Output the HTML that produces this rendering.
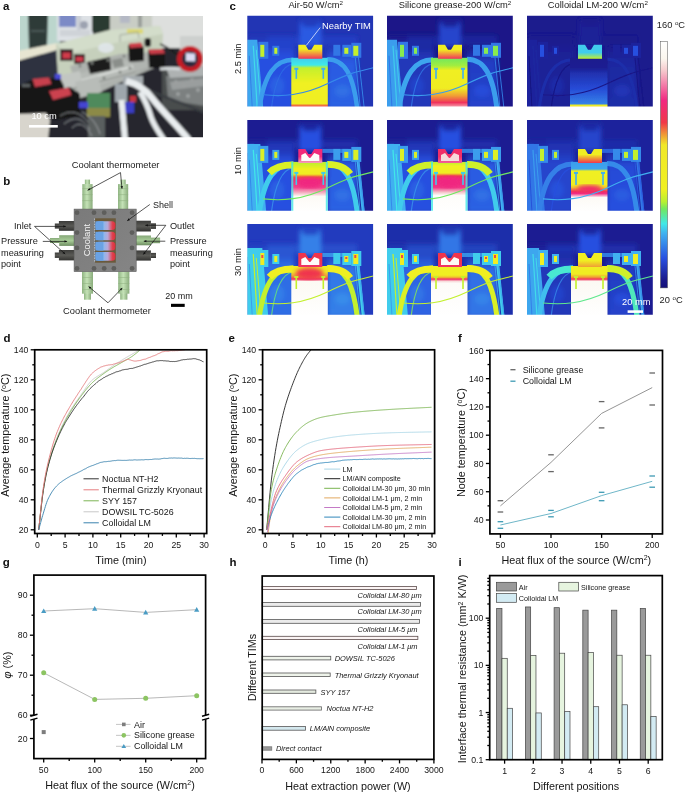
<!DOCTYPE html>
<html><head><meta charset="utf-8"><title>Figure</title>
<style>
html,body{margin:0;padding:0;background:#fff;width:685px;height:793px;overflow:hidden;}
svg{display:block;}
text{font-family:'Liberation Sans', Arial, sans-serif;}
</style></head><body>
<svg width="685" height="793" viewBox="0 0 685 793">
<rect width="685" height="793" fill="#fff"/>
<defs><filter id="tblur" x="-5%" y="-5%" width="110%" height="110%"><feGaussianBlur stdDeviation="0.55"/></filter><filter id="pblur" x="-5%" y="-5%" width="110%" height="110%"><feGaussianBlur stdDeviation="0.9"/></filter><filter id="tblur2" x="-10%" y="-10%" width="120%" height="120%"><feGaussianBlur stdDeviation="2"/></filter></defs>
<text x="3.0" y="10.0" font-size="11.5" font-weight="bold" fill="#111">a</text>
<text x="3.2" y="185.3" font-size="11.5" font-weight="bold" fill="#111">b</text>
<text x="229.5" y="10.0" font-size="11.5" font-weight="bold" fill="#111">c</text>
<text x="3.5" y="342.3" font-size="11.5" font-weight="bold" fill="#111">d</text>
<text x="228.5" y="342.3" font-size="11.5" font-weight="bold" fill="#111">e</text>
<text x="458.0" y="342.3" font-size="11.5" font-weight="bold" fill="#111">f</text>
<text x="2.8" y="566.0" font-size="11.5" font-weight="bold" fill="#111">g</text>
<text x="229.5" y="566.0" font-size="11.5" font-weight="bold" fill="#111">h</text>
<text x="458.5" y="566.0" font-size="11.5" font-weight="bold" fill="#111">i</text>
<clipPath id="clipa"><rect x="20" y="16" width="183" height="121.3"/></clipPath>
<g clip-path="url(#clipa)"><g transform="translate(20,16)" filter="url(#pblur)">
<rect x="-2" y="-2" width="187" height="126" fill="#25282d"/>
<rect x="-2" y="-2" width="42" height="40" fill="#bcd6cd"/>
<polygon points="8,-2 28,-2 27,31 9,34" fill="#2f3b39"/>
<rect x="11" y="14" width="14" height="2" fill="#4a5654"/>
<rect x="37" y="-2" width="36" height="27" fill="#dde1e5"/>
<rect x="39" y="-2" width="17" height="13" fill="#7c8ac6"/>
<rect x="57" y="-2" width="4" height="16" fill="#c8ccd4"/>
<circle cx="64" cy="9" r="4" fill="#9ca2b0"/>
<rect x="40" y="14" width="30" height="6" fill="#cfd3d8"/>
<rect x="72" y="-2" width="20" height="18" fill="#2b3a33"/>
<rect x="90" y="-2" width="42" height="16" fill="#c9cdc5"/>
<rect x="100" y="-2" width="10" height="9" fill="#b5b9c5"/>
<rect x="118" y="-2" width="4" height="14" fill="#9a9e9a"/>
<rect x="132" y="-2" width="53" height="34" fill="#dddfdd"/>
<rect x="160" y="20" width="25" height="40" fill="#cdd0ce"/>
<polygon points="-2,35 37,27 37,34 -2,45" fill="#e7e5d1"/>
<polygon points="-2,45 37,34 40,62 -2,70" fill="#2d3240"/>
<polygon points="36,28 90,14 140,10 143,18 142,40 100,52 60,62 38,62" fill="#c6d0bc"/>
<polygon points="36,28 90,14 140,10 143,18 100,26 46,38" fill="#d3ddca"/>
<ellipse cx="86" cy="32" rx="8" ry="5" fill="#e4e8f0" opacity="0.8"/>
<rect x="107" y="13" width="16" height="4.5" fill="#dcd872"/>
<polyline points="100,26 100,19 118,16 119,22" stroke="#9aa096" stroke-width="0.9" fill="none"/>
<rect x="40" y="33" width="13" height="12" fill="#3b2226"/>
<rect x="42.5" y="36.5" width="8" height="6" fill="#d23a4c"/>
<rect x="54" y="38" width="11" height="10" fill="#3b2226"/>
<rect x="56" y="41" width="7" height="4.5" fill="#d23a4c"/>
<polygon points="50,50 100,38 132,36 134,52 110,62 76,78 56,70" fill="#aeb2ae"/>
<polygon points="36,64 100,46 138,38 142,50 104,60 44,80" fill="#b6bab6"/>
<path d="M40,70 L140,43" stroke="#e0e4e0" stroke-width="1.5" fill="none"/>
<path d="M42,76 L140,49" stroke="#8a8e8a" stroke-width="1.2" fill="none"/>
<polygon points="67,46 90,41 91,54 70,58" fill="#1f1f1f"/>
<polygon points="92,44 102,42 104,50 94,52" fill="#8a8e8a"/>
<polygon points="36,60 60,55 62,68 40,74" fill="#c2c6c2"/>
<polygon points="55,66 78,60 82,76 60,82" fill="#b8bcb8"/>
<polygon points="110,44 135,38 140,48 116,56" fill="#b0b4b0"/>
<circle cx="60" cy="50" r="1.5" fill="#7c807c"/>
<circle cx="72" cy="47" r="1.5" fill="#7c807c"/>
<circle cx="88" cy="44" r="1.5" fill="#7c807c"/>
<circle cx="104" cy="40" r="1.5" fill="#7c807c"/>
<circle cx="100" cy="56" r="1.5" fill="#7c807c"/>
<circle cx="84" cy="62" r="1.5" fill="#7c807c"/>
<circle cx="110" cy="52" r="1.5" fill="#7c807c"/>
<rect x="142" y="52" width="43" height="42" fill="#4a4d4d"/>
<polygon points="146,60 185,56 185,90 148,84" fill="#7c8080"/>
<polygon points="150,66 185,62 185,70 152,74" fill="#9a9e9e"/>
<circle cx="156" cy="66" r="2" fill="#9ca0a0"/>
<circle cx="164" cy="70" r="2" fill="#9ca0a0"/>
<circle cx="172" cy="64" r="2" fill="#9ca0a0"/>
<circle cx="178" cy="74" r="2" fill="#9ca0a0"/>
<circle cx="168" cy="80" r="2" fill="#9ca0a0"/>
<circle cx="158" cy="78" r="2" fill="#9ca0a0"/>
<polygon points="126,72 185,95 185,98 126,75" fill="#3a3e42"/>
<polygon points="146,52 185,50 185,60 150,62" fill="#aeb2b2"/>
<path d="M140,28 C150,32 156,38 162,42" stroke="#1a1a1a" stroke-width="1.5" fill="none"/>
<circle cx="170" cy="43" r="13" fill="#c41e28"/>
<circle cx="170" cy="43" r="8" fill="#2a2a3c"/>
<polygon points="166,37 175,37.5 175,45.5 166,45" fill="#dcdcf4"/>
<polygon points="-2,70 12,64 40,62 44,70 44,96 30,100 -2,100" fill="#151515"/>
<polygon points="12.5,63 29,61.5 31.5,68 15,71" fill="#c8404e"/>
<polygon points="28,76 50,71 60,78 60,100 34,104 28,96" fill="#121212"/>
<polygon points="29,75 49,71.5 51.5,79 33,84" fill="#cc4250"/>
<rect x="2" y="68" width="8" height="3" fill="#5a5e60"/>
<polygon points="108,29 121,27 124,32 124,45 109,46" fill="#141414"/>
<polygon points="109,27.5 121,26.5 123,31 110,32" fill="#cc3c4a"/>
<polygon points="128,34 143,33 145,38 145,52 129,52" fill="#131313"/>
<polygon points="128,33.5 143,33 145,37.5 130,38" fill="#cc3c4a"/>
<rect x="124.5" y="22" width="6.5" height="9" rx="3" fill="#191919"/>
<rect x="67" y="77" width="23" height="24" fill="#4f8a5c"/>
<rect x="67" y="92" width="23" height="9" fill="#8c8a46"/>
<rect x="68" y="100" width="17" height="22" fill="#5a5e5e"/>
<polygon points="-2,98 26,97 30,104 28,124 -2,124" fill="#d8d5cd"/>
<rect x="59" y="86" width="9" height="6" fill="#4444d2"/>
<rect x="35" y="58" width="6" height="5" fill="#4a4ad8"/>
<rect x="105" y="86" width="9" height="11" fill="#3a3cc4"/>
<rect x="110" y="80" width="6" height="6" fill="#c83440"/>
<rect x="95" y="68" width="12" height="18" fill="#9ea6ac"/>
<rect x="103" y="60" width="20" height="8" fill="#a4aaae"/>
<path d="M106,65 C118,68 126,74 132,82 C142,95 156,108 169,124" stroke="#e9edef" stroke-width="6.5" fill="none"/>
<path d="M120,76 C125,84 129,94 131,101 C134,110 139,116 144,124" stroke="#e6eaec" stroke-width="5.5" fill="none"/>
<path d="M101.5,84 C102.5,96 103.5,108 105,124" stroke="#e8ecee" stroke-width="6" fill="none"/>
<path d="M140,53 C148,52 154,52 160,53" stroke="#d4d8da" stroke-width="3" fill="none"/>
<path d="M40,100 C52,92 62,98 68,106 M44,108 C56,98 64,104 70,114 M52,112 C60,104 66,110 72,120 M62,96 C70,100 76,106 80,118" stroke="#b8bcc0" stroke-width="0.7" fill="none"/>
</g>
<text x="31.4" y="119.0" font-size="9.3" fill="#fff">10 cm</text>
<rect x="29" y="125.0" width="28.8" height="2.6" fill="#fff"/>
</g>
<defs>
<linearGradient id="gpipe" x1="0" x2="1" y1="0" y2="0"><stop offset="0" stop-color="#8fb482"/><stop offset="0.45" stop-color="#c4e2b6"/><stop offset="1" stop-color="#8aac7c"/></linearGradient>
<linearGradient id="gfit" x1="0" x2="0" y1="0" y2="1"><stop offset="0" stop-color="#86a878"/><stop offset="0.5" stop-color="#a8cc98"/><stop offset="1" stop-color="#6f8f62"/></linearGradient>
<linearGradient id="dfit" x1="0" x2="0" y1="0" y2="1"><stop offset="0" stop-color="#3c3c3a"/><stop offset="0.5" stop-color="#5a5a56"/><stop offset="1" stop-color="#333331"/></linearGradient>
<linearGradient id="chan" x1="0" x2="1" y1="0" y2="0"><stop offset="0" stop-color="#5f9ae0"/><stop offset="0.4" stop-color="#8ab8ee"/><stop offset="0.62" stop-color="#b8a8d8"/><stop offset="0.85" stop-color="#e0404e"/><stop offset="1" stop-color="#d8303c"/></linearGradient>
<linearGradient id="shell" x1="0" x2="1" y1="0" y2="1"><stop offset="0" stop-color="#7a7a7a"/><stop offset="1" stop-color="#858585"/></linearGradient>
</defs>
<rect x="84.85" y="179.60" width="5.2" height="5" fill="url(#gpipe)"/>
<rect x="82.30" y="184.10" width="10.30" height="25.40" fill="url(#gpipe)"/>
<line x1="82.30" y1="188.60" x2="92.60" y2="188.60" stroke="#8fb07f" stroke-width="0.5" />
<line x1="82.30" y1="194.60" x2="92.60" y2="194.60" stroke="#8fb07f" stroke-width="0.5" />
<line x1="82.30" y1="200.60" x2="92.60" y2="200.60" stroke="#8fb07f" stroke-width="0.5" />
<rect x="120.50" y="179.60" width="5.2" height="5" fill="url(#gpipe)"/>
<rect x="118.00" y="184.10" width="10.20" height="25.40" fill="url(#gpipe)"/>
<line x1="118.00" y1="188.60" x2="128.20" y2="188.60" stroke="#8fb07f" stroke-width="0.5" />
<line x1="118.00" y1="194.60" x2="128.20" y2="194.60" stroke="#8fb07f" stroke-width="0.5" />
<line x1="118.00" y1="200.60" x2="128.20" y2="200.60" stroke="#8fb07f" stroke-width="0.5" />
<rect x="82.00" y="271.50" width="11.00" height="22.20" fill="url(#gpipe)"/>
<rect x="84.00" y="293.20" width="7.00" height="6.5" fill="url(#gpipe)"/>
<line x1="82.00" y1="277.50" x2="93.00" y2="277.50" stroke="#8fb07f" stroke-width="0.5" />
<line x1="82.00" y1="283.50" x2="93.00" y2="283.50" stroke="#8fb07f" stroke-width="0.5" />
<line x1="82.00" y1="289.50" x2="93.00" y2="289.50" stroke="#8fb07f" stroke-width="0.5" />
<rect x="118.20" y="271.50" width="11.20" height="22.20" fill="url(#gpipe)"/>
<rect x="120.20" y="293.20" width="7.20" height="6.5" fill="url(#gpipe)"/>
<line x1="118.20" y1="277.50" x2="129.40" y2="277.50" stroke="#8fb07f" stroke-width="0.5" />
<line x1="118.20" y1="283.50" x2="129.40" y2="283.50" stroke="#8fb07f" stroke-width="0.5" />
<line x1="118.20" y1="289.50" x2="129.40" y2="289.50" stroke="#8fb07f" stroke-width="0.5" />
<rect x="54.80" y="223.50" width="19.70" height="5.10" fill="url(#dfit)"/>
<rect x="58.90" y="221.00" width="15.60" height="9.80" fill="url(#dfit)"/>
<rect x="50.00" y="238.00" width="24.50" height="5.00" fill="url(#gfit)"/>
<rect x="59.20" y="235.20" width="15.30" height="10.70" fill="url(#gfit)"/>
<rect x="54.80" y="252.50" width="19.70" height="5.40" fill="url(#dfit)"/>
<rect x="58.90" y="250.00" width="15.60" height="10.40" fill="url(#dfit)"/>
<rect x="150.90" y="223.30" width="5.10" height="5.60" fill="url(#dfit)"/>
<rect x="136.00" y="220.70" width="14.90" height="10.80" fill="url(#dfit)"/>
<rect x="151.00" y="237.60" width="9.10" height="5.60" fill="url(#gfit)"/>
<rect x="136.00" y="235.50" width="15.00" height="9.80" fill="url(#gfit)"/>
<rect x="150.90" y="252.90" width="5.10" height="5.10" fill="url(#dfit)"/>
<rect x="136.00" y="250.40" width="14.90" height="10.20" fill="url(#dfit)"/>
<rect x="74.1" y="209.1" width="62.1" height="62.5" fill="url(#shell)" stroke="#5e5e5e" stroke-width="0.6"/>
<circle cx="77.0" cy="212.7" r="2.4" fill="#5e5e5c"/>
<circle cx="77.0" cy="268.4" r="2.4" fill="#5e5e5c"/>
<circle cx="94.0" cy="212.7" r="2.4" fill="#5e5e5c"/>
<circle cx="94.0" cy="268.4" r="2.4" fill="#5e5e5c"/>
<circle cx="104.2" cy="212.7" r="2.4" fill="#5e5e5c"/>
<circle cx="104.2" cy="268.4" r="2.4" fill="#5e5e5c"/>
<circle cx="113.9" cy="212.7" r="2.4" fill="#5e5e5c"/>
<circle cx="113.9" cy="268.4" r="2.4" fill="#5e5e5c"/>
<circle cx="132.1" cy="212.7" r="2.4" fill="#5e5e5c"/>
<circle cx="132.1" cy="268.4" r="2.4" fill="#5e5e5c"/>
<circle cx="77.0" cy="232.6" r="2.4" fill="#5e5e5c"/>
<circle cx="132.0" cy="232.6" r="2.4" fill="#5e5e5c"/>
<circle cx="77.0" cy="247.9" r="2.4" fill="#5e5e5c"/>
<circle cx="132.0" cy="247.9" r="2.4" fill="#5e5e5c"/>
<rect x="95.0" y="218.3" width="20.8" height="44.4" fill="#6a5a3c"/>
<rect x="95.4" y="221.3" width="20.0" height="8.7" rx="3.5" fill="url(#chan)"/>
<rect x="95.4" y="221.3" width="8" height="8.7" fill="#6aa2e4"/>
<rect x="95.4" y="231.8" width="20.0" height="8.5" rx="3.5" fill="url(#chan)"/>
<rect x="95.4" y="231.8" width="8" height="8.5" fill="#6aa2e4"/>
<rect x="95.4" y="241.8" width="20.0" height="8.7" rx="3.5" fill="url(#chan)"/>
<rect x="95.4" y="241.8" width="8" height="8.7" fill="#6aa2e4"/>
<rect x="95.4" y="252.0" width="20.0" height="8.7" rx="3.5" fill="url(#chan)"/>
<rect x="95.4" y="252.0" width="8" height="8.7" fill="#6aa2e4"/>
<line x1="94.6" y1="218.5" x2="94.6" y2="262.5" stroke="#dde8f5" stroke-width="0.6" stroke-dasharray="1.4,1.2"/>
<text transform="translate(89.7,240.0) rotate(-90)" font-size="9.4" text-anchor="middle" fill="#f4f4f4">Coolant</text>
<text x="71.70" y="167.80" font-size="9.35" text-anchor="start" fill="#1a1a1a" >Coolant thermometer</text>
<line x1="120.50" y1="172.60" x2="87.60" y2="190.30" stroke="#111" stroke-width="0.7" />
<polygon points="87.60,190.30 90.44,190.10 89.34,188.04" fill="#111"/>
<line x1="120.50" y1="172.60" x2="122.00" y2="188.70" stroke="#111" stroke-width="0.7" />
<polygon points="122.00,188.70 122.92,186.00 120.59,186.22" fill="#111"/>
<text x="63.10" y="313.60" font-size="9.35" text-anchor="start" fill="#1a1a1a" >Coolant thermometer</text>
<line x1="108.00" y1="302.80" x2="88.60" y2="286.50" stroke="#111" stroke-width="0.7" />
<polygon points="88.60,286.50 89.84,289.07 91.34,287.28" fill="#111"/>
<line x1="108.00" y1="302.80" x2="122.30" y2="287.90" stroke="#111" stroke-width="0.7" />
<polygon points="122.30,287.90 119.66,288.97 121.34,290.59" fill="#111"/>
<text x="153.00" y="207.70" font-size="9.0" text-anchor="start" fill="#1a1a1a" >Shell</text>
<line x1="149.80" y1="204.50" x2="127.20" y2="220.80" stroke="#111" stroke-width="0.7" />
<polygon points="127.20,220.80 129.99,220.23 128.62,218.33" fill="#111"/>
<text x="14.00" y="229.00" font-size="9.2" text-anchor="start" fill="#1a1a1a" >Inlet</text>
<line x1="34.50" y1="226.40" x2="65.90" y2="226.40" stroke="#111" stroke-width="0.7" />
<polygon points="65.90,226.40 63.30,225.23 63.30,227.57" fill="#111"/>
<line x1="34.50" y1="226.40" x2="65.20" y2="254.10" stroke="#111" stroke-width="0.7" />
<polygon points="65.20,254.10 64.05,251.49 62.49,253.23" fill="#111"/>
<text x="1.00" y="244.40" font-size="9.2" text-anchor="start" fill="#1a1a1a" >Pressure</text>
<text x="1.00" y="255.60" font-size="9.2" text-anchor="start" fill="#1a1a1a" >measuring</text>
<text x="1.00" y="266.80" font-size="9.2" text-anchor="start" fill="#1a1a1a" >point</text>
<line x1="42.80" y1="241.40" x2="67.10" y2="241.40" stroke="#111" stroke-width="0.7" />
<polygon points="67.10,241.40 64.50,240.23 64.50,242.57" fill="#111"/>
<text x="169.90" y="228.90" font-size="9.2" text-anchor="start" fill="#1a1a1a" >Outlet</text>
<line x1="165.80" y1="225.30" x2="145.30" y2="225.30" stroke="#111" stroke-width="0.7" />
<polygon points="145.30,225.30 147.90,226.47 147.90,224.13" fill="#111"/>
<line x1="165.80" y1="225.30" x2="143.30" y2="254.50" stroke="#111" stroke-width="0.7" />
<polygon points="143.30,254.50 145.81,253.15 143.96,251.73" fill="#111"/>
<text x="169.90" y="244.20" font-size="9.2" text-anchor="start" fill="#1a1a1a" >Pressure</text>
<text x="169.90" y="255.50" font-size="9.2" text-anchor="start" fill="#1a1a1a" >measuring</text>
<text x="169.90" y="266.80" font-size="9.2" text-anchor="start" fill="#1a1a1a" >point</text>
<line x1="165.30" y1="241.20" x2="143.80" y2="241.20" stroke="#111" stroke-width="0.7" />
<polygon points="143.80,241.20 146.40,242.37 146.40,240.03" fill="#111"/>
<text x="165.30" y="298.70" font-size="9.0" text-anchor="start" fill="#1a1a1a" >20 mm</text>
<rect x="171.0" y="303.8" width="13.7" height="3.1" fill="#000"/>
<clipPath id="tc1"><rect x="0" y="0" width="125.8" height="90.8"/></clipPath>
<g transform="translate(247.3,15.8)" clip-path="url(#tc1)"><g filter="url(#tblur)">
<rect x="-2" y="-2" width="129.8" height="94.8" fill="#2134b4"/>
<g filter="url(#tblur2)">
<linearGradient id="tg2" x1="0" y1="0" x2="0" y2="1"><stop offset="0" stop-color="#2134b4"/><stop offset="0.3" stop-color="#2850e0"/><stop offset="1" stop-color="#2850e0"/></linearGradient>
<rect x="0" y="20" width="47" height="73" fill="url(#tg2)"/>
<linearGradient id="tg3" x1="0" y1="0" x2="0" y2="1"><stop offset="0" stop-color="#2134b4"/><stop offset="0.25" stop-color="#2a5ae2"/><stop offset="1" stop-color="#2d63e3"/></linearGradient>
<rect x="80" y="30" width="30" height="63" fill="url(#tg3)"/>
<ellipse cx="95" cy="75" rx="8" ry="6" fill="#3276e6" opacity="0.7"/>
<ellipse cx="30" cy="70" rx="7" ry="9" fill="#2f6de5" opacity="0.6"/>
<rect x="20" y="20" width="90" height="9" fill="#2850e0" opacity="0.35"/>
<linearGradient id="tg4" x1="0" y1="0" x2="0" y2="1"><stop offset="0" stop-color="#2134b4"/><stop offset="0.25" stop-color="#2a5ae2"/><stop offset="1" stop-color="#2a5ae2"/></linearGradient>
<rect x="52" y="3" width="22" height="28" fill="url(#tg4)"/>
<rect x="56" y="6" width="14" height="5" fill="#2134b4" opacity="0.8"/>
</g>
<path d="M0,24 L10,24 L16,93 L0,93 Z" fill="#3ea6ee"/>
<path d="M6,30 L10,93" stroke="#40daea" stroke-width="1.2" fill="none"/>
<path d="M9,34 L14,93" stroke="#40daea" stroke-width="1.0" fill="none"/>
<path d="M2,40 L5,93" stroke="#3276e6" stroke-width="0.8" fill="none"/>
<path d="M108,42 L113,93 M111,40 L117,93" stroke="#368aea" stroke-width="0.9" fill="none"/>
<path d="M46,44 C28,44 17,58 12,93" stroke="#3b9ded" stroke-width="4.5" fill="none"/>
<path d="M46,48 C36,49 28,62 24,93" stroke="#2f6de5" stroke-width="1.2" fill="none" opacity="0.8"/>
<path d="M80,43.5 C98,43.5 106,60 110,93" stroke="#3b9ded" stroke-width="4.5" fill="none"/>
<linearGradient id="tg5" x1="0" y1="0" x2="0" y2="1"><stop offset="0" stop-color="#40ccec"/><stop offset="0.14" stop-color="#40e8e8"/><stop offset="0.2" stop-color="#c3f02d"/><stop offset="0.5" stop-color="#f0f020"/><stop offset="0.9" stop-color="#f0ee22"/><stop offset="0.95" stop-color="#f04c44"/><stop offset="1" stop-color="#f4a0b9"/></linearGradient>
<rect x="44" y="42" width="36.5" height="50.8" fill="url(#tg5)"/>
<rect x="47" y="52" width="4" height="2" fill="#40b0f0"/>
<rect x="48.2" y="53" width="1.6" height="10" fill="#40b0f0"/>
<rect x="74" y="52" width="4" height="2" fill="#40b0f0"/>
<rect x="75.2" y="53" width="1.6" height="10" fill="#40b0f0"/>
<path d="M16,79 C35,81 55,80 80,68 S110,56 126,52" stroke="#368aea" stroke-width="1.1" fill="none"/>
<linearGradient id="tg6" x1="0" y1="0" x2="0" y2="1"><stop offset="0" stop-color="#f0ee22"/><stop offset="0.3" stop-color="#f0ee22"/><stop offset="1" stop-color="#f0335b"/></linearGradient>
<path d="M51,29 L58,29 L61,34 L64,34 L67,29 L75,29 L75,43 L51,43 Z" fill="url(#tg6)"/>
<rect x="11" y="26" width="10" height="17" fill="#3276e6"/>
<rect x="25" y="30" width="7" height="10" fill="#3276e6"/>
<rect x="86" y="29" width="7" height="11" fill="#3276e6"/>
<rect x="95" y="29" width="9" height="12" fill="#3276e6"/>
<rect x="104" y="27" width="10" height="15" fill="#3276e6"/>
<rect x="13" y="29" width="4" height="12" fill="#c3f02d"/>
<rect x="27" y="32" width="3" height="6" fill="#c3f02d"/>
<rect x="97" y="32" width="4" height="6" fill="#c3f02d"/>
<rect x="106" y="30" width="5" height="10" fill="#c3f02d"/>
</g>
</g>
<clipPath id="tc7"><rect x="0" y="0" width="125.8" height="90.8"/></clipPath>
<g transform="translate(387.0,15.8)" clip-path="url(#tc7)"><g filter="url(#tblur)">
<rect x="-2" y="-2" width="129.8" height="94.8" fill="#1a1888"/>
<g filter="url(#tblur2)">
<linearGradient id="tg8" x1="0" y1="0" x2="0" y2="1"><stop offset="0" stop-color="#1a1888"/><stop offset="0.3" stop-color="#2237b9"/><stop offset="1" stop-color="#2237b9"/></linearGradient>
<rect x="0" y="20" width="47" height="73" fill="url(#tg8)"/>
<linearGradient id="tg9" x1="0" y1="0" x2="0" y2="1"><stop offset="0" stop-color="#1a1888"/><stop offset="0.25" stop-color="#233dc3"/><stop offset="1" stop-color="#2544cc"/></linearGradient>
<rect x="80" y="30" width="30" height="63" fill="url(#tg9)"/>
<ellipse cx="95" cy="75" rx="8" ry="6" fill="#2850e0" opacity="0.7"/>
<ellipse cx="30" cy="70" rx="7" ry="9" fill="#264ad6" opacity="0.6"/>
<rect x="20" y="20" width="90" height="9" fill="#233dc3" opacity="0.35"/>
<linearGradient id="tg10" x1="0" y1="0" x2="0" y2="1"><stop offset="0" stop-color="#1a1888"/><stop offset="0.25" stop-color="#2544cc"/><stop offset="1" stop-color="#2544cc"/></linearGradient>
<rect x="52" y="3" width="22" height="28" fill="url(#tg10)"/>
<rect x="56" y="6" width="14" height="5" fill="#1a1888" opacity="0.8"/>
</g>
<path d="M0,24 L10,24 L16,93 L0,93 Z" fill="#3b9ded"/>
<path d="M6,30 L10,93" stroke="#40ccec" stroke-width="1.2" fill="none"/>
<path d="M9,34 L14,93" stroke="#40ccec" stroke-width="1.0" fill="none"/>
<path d="M2,40 L5,93" stroke="#2f6de5" stroke-width="0.8" fill="none"/>
<path d="M108,42 L113,93 M111,40 L117,93" stroke="#3480e8" stroke-width="0.9" fill="none"/>
<path d="M46,44 C28,44 17,58 12,93" stroke="#3ea6ee" stroke-width="5.0" fill="none"/>
<path d="M46,48 C36,49 28,62 24,93" stroke="#3276e6" stroke-width="1.2" fill="none" opacity="0.8"/>
<path d="M80,43.5 C98,43.5 106,60 110,93" stroke="#3b9ded" stroke-width="5.0" fill="none"/>
<linearGradient id="tg11" x1="0" y1="0" x2="0" y2="1"><stop offset="0" stop-color="#70e860"/><stop offset="0.15" stop-color="#a0ed40"/><stop offset="0.25" stop-color="#f0ef21"/><stop offset="0.6" stop-color="#f0ec24"/><stop offset="0.75" stop-color="#f09d35"/><stop offset="0.88" stop-color="#f0335b"/><stop offset="1" stop-color="#f5c8cc"/></linearGradient>
<rect x="44" y="42" width="36.5" height="50.8" fill="url(#tg11)"/>
<rect x="47" y="52" width="4" height="2" fill="#40b0f0"/>
<rect x="48.2" y="53" width="1.6" height="10" fill="#40b0f0"/>
<rect x="74" y="52" width="4" height="2" fill="#40b0f0"/>
<rect x="75.2" y="53" width="1.6" height="10" fill="#40b0f0"/>
<path d="M16,79 C35,81 55,80 80,68 S110,56 126,52" stroke="#3b9ded" stroke-width="1.1" fill="none"/>
<linearGradient id="tg12" x1="0" y1="0" x2="0" y2="1"><stop offset="0" stop-color="#f0ee22"/><stop offset="0.35" stop-color="#f0ee22"/><stop offset="1" stop-color="#f0335b"/></linearGradient>
<path d="M51,29 L58,29 L61,34 L64,34 L67,29 L75,29 L75,43 L51,43 Z" fill="url(#tg12)"/>
<rect x="11" y="26" width="10" height="17" fill="#3276e6"/>
<rect x="25" y="30" width="7" height="10" fill="#3276e6"/>
<rect x="86" y="29" width="7" height="11" fill="#3276e6"/>
<rect x="95" y="29" width="9" height="12" fill="#3276e6"/>
<rect x="104" y="27" width="10" height="15" fill="#3276e6"/>
<rect x="13" y="29" width="4" height="12" fill="#88eb50"/>
<rect x="27" y="32" width="3" height="6" fill="#88eb50"/>
<rect x="97" y="32" width="4" height="6" fill="#88eb50"/>
<rect x="106" y="30" width="5" height="10" fill="#88eb50"/>
</g>
</g>
<clipPath id="tc13"><rect x="0" y="0" width="125.8" height="90.8"/></clipPath>
<g transform="translate(527.0,15.8)" clip-path="url(#tc13)"><g filter="url(#tblur)">
<rect x="-2" y="-2" width="129.8" height="94.8" fill="#1b1b8d"/>
<g filter="url(#tblur2)">
<linearGradient id="tg14" x1="0" y1="0" x2="0" y2="1"><stop offset="0" stop-color="#1b1b8d"/><stop offset="0.3" stop-color="#1c2197"/><stop offset="1" stop-color="#1c2197"/></linearGradient>
<rect x="0" y="20" width="47" height="73" fill="url(#tg14)"/>
<linearGradient id="tg15" x1="0" y1="0" x2="0" y2="1"><stop offset="0" stop-color="#1b1b8d"/><stop offset="0.25" stop-color="#1e28a0"/><stop offset="1" stop-color="#1f2eaa"/></linearGradient>
<rect x="80" y="30" width="30" height="63" fill="url(#tg15)"/>
<ellipse cx="95" cy="75" rx="8" ry="6" fill="#233abe" opacity="0.7"/>
<ellipse cx="30" cy="70" rx="7" ry="9" fill="#2134b4" opacity="0.6"/>
<rect x="20" y="20" width="90" height="9" fill="#1b1b8d" opacity="0.35"/>
<linearGradient id="tg16" x1="0" y1="0" x2="0" y2="1"><stop offset="0" stop-color="#1b1b8d"/><stop offset="0.25" stop-color="#1c2197"/><stop offset="1" stop-color="#1c2197"/></linearGradient>
<rect x="52" y="3" width="22" height="28" fill="url(#tg16)"/>
<rect x="56" y="6" width="14" height="5" fill="#1b1b8d" opacity="0.8"/>
</g>
<path d="M0,24 L10,24 L16,93 L0,93 Z" fill="#1d249c"/>
<path d="M6,30 L10,93" stroke="#1e28a0" stroke-width="1.2" fill="none"/>
<path d="M9,34 L14,93" stroke="#1e28a0" stroke-width="1.0" fill="none"/>
<path d="M2,40 L5,93" stroke="#14107a" stroke-width="0.8" fill="none"/>
<path d="M108,42 L113,93 M111,40 L117,93" stroke="#181583" stroke-width="0.9" fill="none"/>
<path d="M46,44 C28,44 17,58 12,93" stroke="#1f2eaa" stroke-width="3" fill="none"/>
<path d="M46,48 C36,49 28,62 24,93" stroke="#171481" stroke-width="1.2" fill="none" opacity="0.8"/>
<path d="M80,43.5 C98,43.5 106,60 110,93" stroke="#1f2eaa" stroke-width="3" fill="none"/>
<linearGradient id="tg17" x1="0" y1="0" x2="0" y2="1"><stop offset="0" stop-color="#1b1b8d"/><stop offset="0.2" stop-color="#1c1e92"/><stop offset="0.3" stop-color="#2031af"/><stop offset="0.6" stop-color="#264ad6"/><stop offset="0.9" stop-color="#3480e8"/><stop offset="0.94" stop-color="#f0ee22"/><stop offset="1" stop-color="#f0c22e"/></linearGradient>
<rect x="43" y="42" width="37.5" height="50.8" fill="url(#tg17)"/>
<path d="M16,79 C35,81 55,80 80,68 S110,56 126,52" stroke="#1a1888" stroke-width="1.1" fill="none"/>
<linearGradient id="tg18" x1="0" y1="0" x2="0" y2="1"><stop offset="0" stop-color="#40ccec"/><stop offset="0.55" stop-color="#40ccec"/><stop offset="1" stop-color="#c3f02d"/></linearGradient>
<path d="M51,29 L58,29 L61,34 L64,34 L67,29 L75,29 L75,43 L51,43 Z" fill="url(#tg18)"/>
<rect x="11" y="26" width="10" height="17" fill="#1d249c"/>
<rect x="25" y="30" width="7" height="10" fill="#1d249c"/>
<rect x="86" y="29" width="7" height="11" fill="#1d249c"/>
<rect x="95" y="29" width="9" height="12" fill="#1d249c"/>
<rect x="104" y="27" width="10" height="15" fill="#1d249c"/>
<rect x="13" y="29" width="4" height="12" fill="#2850e0"/>
<rect x="27" y="32" width="3" height="6" fill="#2850e0"/>
<rect x="97" y="32" width="4" height="6" fill="#2850e0"/>
<rect x="106" y="30" width="5" height="10" fill="#2850e0"/>
</g>
</g>
<clipPath id="tc19"><rect x="0" y="0" width="125.8" height="90.8"/></clipPath>
<g transform="translate(247.3,119.9)" clip-path="url(#tc19)"><g filter="url(#tblur)">
<rect x="-2" y="-2" width="129.8" height="94.8" fill="#1c1e92"/>
<g filter="url(#tblur2)">
<linearGradient id="tg20" x1="0" y1="0" x2="0" y2="1"><stop offset="0" stop-color="#1c1e92"/><stop offset="0.3" stop-color="#2850e0"/><stop offset="1" stop-color="#2850e0"/></linearGradient>
<rect x="0" y="20" width="47" height="73" fill="url(#tg20)"/>
<linearGradient id="tg21" x1="0" y1="0" x2="0" y2="1"><stop offset="0" stop-color="#1c1e92"/><stop offset="0.25" stop-color="#2a5ae2"/><stop offset="1" stop-color="#2d63e3"/></linearGradient>
<rect x="80" y="30" width="30" height="63" fill="url(#tg21)"/>
<ellipse cx="95" cy="75" rx="8" ry="6" fill="#3276e6" opacity="0.7"/>
<ellipse cx="30" cy="70" rx="7" ry="9" fill="#2f6de5" opacity="0.6"/>
<rect x="20" y="20" width="90" height="9" fill="#264ad6" opacity="0.35"/>
<linearGradient id="tg22" x1="0" y1="0" x2="0" y2="1"><stop offset="0" stop-color="#1c1e92"/><stop offset="0.25" stop-color="#2850e0"/><stop offset="1" stop-color="#2850e0"/></linearGradient>
<rect x="52" y="3" width="22" height="28" fill="url(#tg22)"/>
<rect x="56" y="6" width="14" height="5" fill="#1c1e92" opacity="0.8"/>
</g>
<path d="M0,24 L13,24 L19,93 L0,93 Z" fill="#40b0f0"/>
<rect x="75" y="29" width="26" height="4" fill="#368aea" opacity="0.85"/>
<rect x="0" y="24" width="7" height="9" fill="#40b0f0"/>
<path d="M110,34 L116,93" stroke="#40b0f0" stroke-width="3" fill="none"/>
<path d="M6,30 L10,93" stroke="#40e8e8" stroke-width="1.2" fill="none"/>
<path d="M9,34 L14,93" stroke="#40e8e8" stroke-width="1.0" fill="none"/>
<path d="M2,40 L5,93" stroke="#3480e8" stroke-width="0.8" fill="none"/>
<path d="M108,42 L113,93 M111,40 L117,93" stroke="#3993eb" stroke-width="0.9" fill="none"/>
<path d="M46,44 C28,44 17,58 12,93" stroke="#40ccec" stroke-width="5.0" fill="none"/>
<path d="M46,48 C36,49 28,62 24,93" stroke="#3993eb" stroke-width="1.2" fill="none" opacity="0.8"/>
<path d="M80,43.5 C98,43.5 106,60 110,93" stroke="#40ccec" stroke-width="5.0" fill="none"/>
<path d="M46,45 C35,45 27,47.5 22,53" stroke="#daf026" stroke-width="6.8" fill="none"/>
<path d="M80,44.5 C90,44.5 98,47 103,54" stroke="#daf026" stroke-width="6.8" fill="none"/>
<linearGradient id="tg23" x1="0" y1="0" x2="0" y2="1"><stop offset="0" stop-color="#b8f030"/><stop offset="0.14" stop-color="#f0f020"/><stop offset="0.24" stop-color="#f0ec24"/><stop offset="0.3" stop-color="#f04c44"/><stop offset="0.36" stop-color="#f02c74"/><stop offset="0.5" stop-color="#f1438d"/><stop offset="0.6" stop-color="#f4adbf"/><stop offset="0.68" stop-color="#fdfaf5"/><stop offset="1" stop-color="#ffffff"/></linearGradient>
<rect x="44" y="42" width="36.5" height="50.8" fill="url(#tg23)"/>
<ellipse cx="62.2" cy="63" rx="12" ry="5" fill="#f02880" filter="url(#tblur2)"/>
<rect x="44" y="42" width="2" height="50.8" fill="#40e8e8" opacity="0.8"/>
<rect x="78.5" y="42" width="2" height="50.8" fill="#40e8e8" opacity="0.8"/>
<rect x="47" y="52" width="4" height="2" fill="#40ccec"/>
<rect x="48.2" y="53" width="1.6" height="12" fill="#40ccec"/>
<rect x="74" y="52" width="4" height="2" fill="#40ccec"/>
<rect x="75.2" y="53" width="1.6" height="12" fill="#40ccec"/>
<path d="M16,79 C35,81 55,80 80,68 S110,56 126,52" stroke="#70e860" stroke-width="1.1" fill="none"/>
<linearGradient id="tg24" x1="0" y1="0" x2="0" y2="1"><stop offset="0" stop-color="#f02a7a"/><stop offset="0.55" stop-color="#f02a7a"/><stop offset="1" stop-color="#f4a0b9"/></linearGradient>
<path d="M51,29 L58,29 L61,34 L64,34 L67,29 L75,29 L75,43 L51,43 Z" fill="url(#tg24)"/>
<path d="M54,35 L58,33 L62,38 L63,38 L67,33 L72,35 L72,41 L54,41 Z" fill="#fdfbf8"/>
<rect x="11" y="26" width="10" height="17" fill="#3b9ded"/>
<rect x="25" y="30" width="7" height="10" fill="#3b9ded"/>
<rect x="86" y="29" width="7" height="11" fill="#3b9ded"/>
<rect x="95" y="29" width="9" height="12" fill="#3b9ded"/>
<rect x="104" y="27" width="10" height="15" fill="#3b9ded"/>
<rect x="13" y="29" width="4" height="12" fill="#daf026"/>
<rect x="27" y="32" width="3" height="6" fill="#daf026"/>
<rect x="97" y="32" width="4" height="6" fill="#daf026"/>
<rect x="106" y="30" width="5" height="10" fill="#daf026"/>
</g>
</g>
<clipPath id="tc25"><rect x="0" y="0" width="125.8" height="90.8"/></clipPath>
<g transform="translate(387.0,119.9)" clip-path="url(#tc25)"><g filter="url(#tblur)">
<rect x="-2" y="-2" width="129.8" height="94.8" fill="#1c1e92"/>
<g filter="url(#tblur2)">
<linearGradient id="tg26" x1="0" y1="0" x2="0" y2="1"><stop offset="0" stop-color="#1c1e92"/><stop offset="0.3" stop-color="#2850e0"/><stop offset="1" stop-color="#2850e0"/></linearGradient>
<rect x="0" y="20" width="47" height="73" fill="url(#tg26)"/>
<linearGradient id="tg27" x1="0" y1="0" x2="0" y2="1"><stop offset="0" stop-color="#1c1e92"/><stop offset="0.25" stop-color="#2a5ae2"/><stop offset="1" stop-color="#2d63e3"/></linearGradient>
<rect x="80" y="30" width="30" height="63" fill="url(#tg27)"/>
<ellipse cx="95" cy="75" rx="8" ry="6" fill="#3276e6" opacity="0.7"/>
<ellipse cx="30" cy="70" rx="7" ry="9" fill="#2f6de5" opacity="0.6"/>
<rect x="20" y="20" width="90" height="9" fill="#264ad6" opacity="0.35"/>
<linearGradient id="tg28" x1="0" y1="0" x2="0" y2="1"><stop offset="0" stop-color="#1c1e92"/><stop offset="0.25" stop-color="#2850e0"/><stop offset="1" stop-color="#2850e0"/></linearGradient>
<rect x="52" y="3" width="22" height="28" fill="url(#tg28)"/>
<rect x="56" y="6" width="14" height="5" fill="#1c1e92" opacity="0.8"/>
</g>
<path d="M0,24 L13,24 L19,93 L0,93 Z" fill="#40b0f0"/>
<rect x="75" y="29" width="26" height="4" fill="#368aea" opacity="0.85"/>
<rect x="0" y="24" width="7" height="9" fill="#40b0f0"/>
<path d="M110,34 L116,93" stroke="#40b0f0" stroke-width="3" fill="none"/>
<path d="M6,30 L10,93" stroke="#40e8e8" stroke-width="1.2" fill="none"/>
<path d="M9,34 L14,93" stroke="#40e8e8" stroke-width="1.0" fill="none"/>
<path d="M2,40 L5,93" stroke="#3480e8" stroke-width="0.8" fill="none"/>
<path d="M108,42 L113,93 M111,40 L117,93" stroke="#3993eb" stroke-width="0.9" fill="none"/>
<path d="M46,44 C28,44 17,58 12,93" stroke="#40ccec" stroke-width="5.0" fill="none"/>
<path d="M46,48 C36,49 28,62 24,93" stroke="#3993eb" stroke-width="1.2" fill="none" opacity="0.8"/>
<path d="M80,43.5 C98,43.5 106,60 110,93" stroke="#40ccec" stroke-width="5.0" fill="none"/>
<path d="M46,45 C35,45 27,47.5 22,53" stroke="#cef02a" stroke-width="6.8" fill="none"/>
<path d="M80,44.5 C90,44.5 98,47 103,54" stroke="#cef02a" stroke-width="6.8" fill="none"/>
<linearGradient id="tg29" x1="0" y1="0" x2="0" y2="1"><stop offset="0" stop-color="#b8f030"/><stop offset="0.08" stop-color="#f0ef21"/><stop offset="0.22" stop-color="#f0ec24"/><stop offset="0.28" stop-color="#f0364e"/><stop offset="0.34" stop-color="#f02a7a"/><stop offset="0.5" stop-color="#f03586"/><stop offset="0.6" stop-color="#f5c8cc"/><stop offset="0.66" stop-color="#fefcfa"/><stop offset="1" stop-color="#ffffff"/></linearGradient>
<rect x="44" y="42" width="36.5" height="50.8" fill="url(#tg29)"/>
<ellipse cx="62.2" cy="62" rx="13" ry="5.5" fill="#f02880" filter="url(#tblur2)"/>
<rect x="44" y="42" width="2" height="50.8" fill="#40e8e8" opacity="0.8"/>
<rect x="78.5" y="42" width="2" height="50.8" fill="#40e8e8" opacity="0.8"/>
<rect x="47" y="52" width="4" height="2" fill="#40ccec"/>
<rect x="48.2" y="53" width="1.6" height="12" fill="#40ccec"/>
<rect x="74" y="52" width="4" height="2" fill="#40ccec"/>
<rect x="75.2" y="53" width="1.6" height="12" fill="#40ccec"/>
<path d="M16,79 C35,81 55,80 80,68 S110,56 126,52" stroke="#70e860" stroke-width="1.1" fill="none"/>
<linearGradient id="tg30" x1="0" y1="0" x2="0" y2="1"><stop offset="0" stop-color="#f02f67"/><stop offset="0.55" stop-color="#f02f67"/><stop offset="1" stop-color="#f25d99"/></linearGradient>
<path d="M51,29 L58,29 L61,34 L64,34 L67,29 L75,29 L75,43 L51,43 Z" fill="url(#tg30)"/>
<path d="M54,35 L58,33 L62,38 L63,38 L67,33 L72,35 L72,41 L54,41 Z" fill="#f7dada"/>
<rect x="11" y="26" width="10" height="17" fill="#3b9ded"/>
<rect x="25" y="30" width="7" height="10" fill="#3b9ded"/>
<rect x="86" y="29" width="7" height="11" fill="#3b9ded"/>
<rect x="95" y="29" width="9" height="12" fill="#3b9ded"/>
<rect x="104" y="27" width="10" height="15" fill="#3b9ded"/>
<rect x="13" y="29" width="4" height="12" fill="#daf026"/>
<rect x="27" y="32" width="3" height="6" fill="#daf026"/>
<rect x="97" y="32" width="4" height="6" fill="#daf026"/>
<rect x="106" y="30" width="5" height="10" fill="#daf026"/>
</g>
</g>
<clipPath id="tc31"><rect x="0" y="0" width="125.8" height="90.8"/></clipPath>
<g transform="translate(527.0,119.9)" clip-path="url(#tc31)"><g filter="url(#tblur)">
<rect x="-2" y="-2" width="129.8" height="94.8" fill="#1d249c"/>
<g filter="url(#tblur2)">
<linearGradient id="tg32" x1="0" y1="0" x2="0" y2="1"><stop offset="0" stop-color="#1d249c"/><stop offset="0.3" stop-color="#2544cc"/><stop offset="1" stop-color="#2544cc"/></linearGradient>
<rect x="0" y="20" width="47" height="73" fill="url(#tg32)"/>
<linearGradient id="tg33" x1="0" y1="0" x2="0" y2="1"><stop offset="0" stop-color="#1d249c"/><stop offset="0.25" stop-color="#264ad6"/><stop offset="1" stop-color="#2850e0"/></linearGradient>
<rect x="80" y="30" width="30" height="63" fill="url(#tg33)"/>
<ellipse cx="95" cy="75" rx="8" ry="6" fill="#2d63e3" opacity="0.7"/>
<ellipse cx="30" cy="70" rx="7" ry="9" fill="#2a5ae2" opacity="0.6"/>
<rect x="20" y="20" width="90" height="9" fill="#233dc3" opacity="0.35"/>
<linearGradient id="tg34" x1="0" y1="0" x2="0" y2="1"><stop offset="0" stop-color="#1d249c"/><stop offset="0.25" stop-color="#2544cc"/><stop offset="1" stop-color="#2544cc"/></linearGradient>
<rect x="52" y="3" width="22" height="28" fill="url(#tg34)"/>
<rect x="56" y="6" width="14" height="5" fill="#1d249c" opacity="0.8"/>
</g>
<path d="M0,24 L12,24 L18,93 L0,93 Z" fill="#3276e6"/>
<rect x="75" y="29" width="26" height="4" fill="#2f6de5" opacity="0.85"/>
<rect x="0" y="24" width="7" height="9" fill="#3276e6"/>
<path d="M110,34 L116,93" stroke="#3276e6" stroke-width="3" fill="none"/>
<path d="M6,30 L10,93" stroke="#3b9ded" stroke-width="1.2" fill="none"/>
<path d="M9,34 L14,93" stroke="#3b9ded" stroke-width="1.0" fill="none"/>
<path d="M2,40 L5,93" stroke="#264ad6" stroke-width="0.8" fill="none"/>
<path d="M108,42 L113,93 M111,40 L117,93" stroke="#2a5ae2" stroke-width="0.9" fill="none"/>
<path d="M46,44 C28,44 17,58 12,93" stroke="#3480e8" stroke-width="5.0" fill="none"/>
<path d="M46,48 C36,49 28,62 24,93" stroke="#2850e0" stroke-width="1.2" fill="none" opacity="0.8"/>
<path d="M80,43.5 C98,43.5 106,60 110,93" stroke="#368aea" stroke-width="5.0" fill="none"/>
<linearGradient id="tg35" x1="0" y1="0" x2="0" y2="1"><stop offset="0" stop-color="#3b9ded"/><stop offset="0.14" stop-color="#3ea6ee"/><stop offset="0.18" stop-color="#f0f020"/><stop offset="0.45" stop-color="#f0ee22"/><stop offset="0.5" stop-color="#f0c22e"/><stop offset="0.58" stop-color="#f0335b"/><stop offset="0.62" stop-color="#f02880"/><stop offset="0.7" stop-color="#fdfaf5"/><stop offset="1" stop-color="#ffffff"/></linearGradient>
<rect x="44" y="42" width="36.5" height="50.8" fill="url(#tg35)"/>
<ellipse cx="62.2" cy="69" rx="12" ry="4" fill="#f02f67" filter="url(#tblur2)"/>
<rect x="47" y="52" width="4" height="2" fill="#40b0f0"/>
<rect x="48.2" y="53" width="1.6" height="12" fill="#40b0f0"/>
<rect x="74" y="52" width="4" height="2" fill="#40b0f0"/>
<rect x="75.2" y="53" width="1.6" height="12" fill="#40b0f0"/>
<path d="M16,79 C35,81 55,80 80,68 S110,56 126,52" stroke="#40b0f0" stroke-width="1.1" fill="none"/>
<linearGradient id="tg36" x1="0" y1="0" x2="0" y2="1"><stop offset="0" stop-color="#f0ee22"/><stop offset="0.4" stop-color="#f0ee22"/><stop offset="1" stop-color="#f0364e"/></linearGradient>
<path d="M51,29 L58,29 L61,34 L64,34 L67,29 L75,29 L75,43 L51,43 Z" fill="url(#tg36)"/>
<rect x="11" y="26" width="10" height="17" fill="#368aea"/>
<rect x="25" y="30" width="7" height="10" fill="#368aea"/>
<rect x="86" y="29" width="7" height="11" fill="#368aea"/>
<rect x="95" y="29" width="9" height="12" fill="#368aea"/>
<rect x="104" y="27" width="10" height="15" fill="#368aea"/>
<rect x="13" y="29" width="4" height="12" fill="#c3f02d"/>
<rect x="27" y="32" width="3" height="6" fill="#c3f02d"/>
<rect x="97" y="32" width="4" height="6" fill="#c3f02d"/>
<rect x="106" y="30" width="5" height="10" fill="#c3f02d"/>
</g>
</g>
<clipPath id="tc37"><rect x="0" y="0" width="125.8" height="90.8"/></clipPath>
<g transform="translate(247.3,224.0)" clip-path="url(#tc37)"><g filter="url(#tblur)">
<rect x="-2" y="-2" width="129.8" height="94.8" fill="#233abe"/>
<g filter="url(#tblur2)">
<linearGradient id="tg38" x1="0" y1="0" x2="0" y2="1"><stop offset="0" stop-color="#233abe"/><stop offset="0.3" stop-color="#2f6de5"/><stop offset="1" stop-color="#2f6de5"/></linearGradient>
<rect x="0" y="20" width="47" height="73" fill="url(#tg38)"/>
<linearGradient id="tg39" x1="0" y1="0" x2="0" y2="1"><stop offset="0" stop-color="#233abe"/><stop offset="0.25" stop-color="#3276e6"/><stop offset="1" stop-color="#3480e8"/></linearGradient>
<rect x="80" y="30" width="30" height="63" fill="url(#tg39)"/>
<ellipse cx="95" cy="75" rx="8" ry="6" fill="#3993eb" opacity="0.7"/>
<ellipse cx="30" cy="70" rx="7" ry="9" fill="#368aea" opacity="0.6"/>
<rect x="20" y="20" width="90" height="9" fill="#3276e6" opacity="0.35"/>
<linearGradient id="tg40" x1="0" y1="0" x2="0" y2="1"><stop offset="0" stop-color="#233abe"/><stop offset="0.25" stop-color="#3480e8"/><stop offset="1" stop-color="#3480e8"/></linearGradient>
<rect x="52" y="3" width="22" height="28" fill="url(#tg40)"/>
<rect x="56" y="6" width="14" height="5" fill="#233abe" opacity="0.8"/>
</g>
<path d="M0,24 L15,24 L21,93 L0,93 Z" fill="#40ccec"/>
<rect x="75" y="29" width="26" height="4" fill="#3b9ded" opacity="0.85"/>
<rect x="0" y="24" width="7" height="9" fill="#40ccec"/>
<path d="M110,34 L116,93" stroke="#40ccec" stroke-width="3" fill="none"/>
<path d="M6,30 L10,93" stroke="#c3f02d" stroke-width="1.2" fill="none"/>
<path d="M9,34 L14,93" stroke="#c3f02d" stroke-width="1.0" fill="none"/>
<path d="M2,40 L5,93" stroke="#3993eb" stroke-width="0.8" fill="none"/>
<path d="M108,42 L113,93 M111,40 L117,93" stroke="#3ea6ee" stroke-width="0.9" fill="none"/>
<path d="M46,44 C28,44 17,58 12,93" stroke="#c3f02d" stroke-width="5.0" fill="none"/>
<path d="M46,48 C36,49 28,62 24,93" stroke="#68e877" stroke-width="1.2" fill="none" opacity="0.8"/>
<path d="M80,43.5 C98,43.5 106,60 110,93" stroke="#c3f02d" stroke-width="5.0" fill="none"/>
<path d="M46,45 C35,45 27,47.5 22,53" stroke="#f0ef21" stroke-width="6.8" fill="none"/>
<path d="M80,44.5 C90,44.5 98,47 103,54" stroke="#f0ef21" stroke-width="6.8" fill="none"/>
<linearGradient id="tg41" x1="0" y1="0" x2="0" y2="1"><stop offset="0" stop-color="#f0ef21"/><stop offset="0.12" stop-color="#f0ec24"/><stop offset="0.2" stop-color="#f09d35"/><stop offset="0.26" stop-color="#f02f67"/><stop offset="0.3" stop-color="#fcf9f3"/><stop offset="1" stop-color="#ffffff"/></linearGradient>
<rect x="44" y="42" width="36.5" height="50.8" fill="url(#tg41)"/>
<ellipse cx="62.2" cy="49.5" rx="14" ry="6" fill="#f0364e" filter="url(#tblur2)"/>
<rect x="47" y="52" width="4" height="2" fill="#c3f02d"/>
<rect x="48.2" y="53" width="1.6" height="12" fill="#c3f02d"/>
<rect x="74" y="52" width="4" height="2" fill="#c3f02d"/>
<rect x="75.2" y="53" width="1.6" height="12" fill="#c3f02d"/>
<path d="M16,79 C35,81 55,80 80,68 S110,56 126,52" stroke="#c3f02d" stroke-width="1.1" fill="none"/>
<linearGradient id="tg42" x1="0" y1="0" x2="0" y2="1"><stop offset="0" stop-color="#f0364e"/><stop offset="0.55" stop-color="#f0364e"/><stop offset="1" stop-color="#f02f67"/></linearGradient>
<path d="M51,29 L58,29 L61,34 L64,34 L67,29 L75,29 L75,43 L51,43 Z" fill="url(#tg42)"/>
<path d="M54,35 L58,33 L62,38 L63,38 L67,33 L72,35 L72,41 L54,41 Z" fill="#fefcfa"/>
<rect x="11" y="26" width="10" height="17" fill="#40ccec"/>
<rect x="25" y="30" width="7" height="10" fill="#40ccec"/>
<rect x="86" y="29" width="7" height="11" fill="#40ccec"/>
<rect x="95" y="29" width="9" height="12" fill="#40ccec"/>
<rect x="104" y="27" width="10" height="15" fill="#40ccec"/>
<rect x="13" y="29" width="4" height="12" fill="#f0ec24"/>
<rect x="27" y="32" width="3" height="6" fill="#f0ec24"/>
<rect x="97" y="32" width="4" height="6" fill="#f0ec24"/>
<rect x="106" y="30" width="5" height="10" fill="#f0ec24"/>
<rect x="14" y="31" width="2" height="3" fill="#f04c44"/>
<rect x="107" y="31" width="2" height="3" fill="#f04c44"/>
<rect x="98" y="33" width="2" height="2" fill="#f04c44"/>
</g>
</g>
<clipPath id="tc43"><rect x="0" y="0" width="125.8" height="90.8"/></clipPath>
<g transform="translate(387.0,224.0)" clip-path="url(#tc43)"><g filter="url(#tblur)">
<rect x="-2" y="-2" width="129.8" height="94.8" fill="#1f2eaa"/>
<g filter="url(#tblur2)">
<linearGradient id="tg44" x1="0" y1="0" x2="0" y2="1"><stop offset="0" stop-color="#1f2eaa"/><stop offset="0.3" stop-color="#2d63e3"/><stop offset="1" stop-color="#2d63e3"/></linearGradient>
<rect x="0" y="20" width="47" height="73" fill="url(#tg44)"/>
<linearGradient id="tg45" x1="0" y1="0" x2="0" y2="1"><stop offset="0" stop-color="#1f2eaa"/><stop offset="0.25" stop-color="#2f6de5"/><stop offset="1" stop-color="#3276e6"/></linearGradient>
<rect x="80" y="30" width="30" height="63" fill="url(#tg45)"/>
<ellipse cx="95" cy="75" rx="8" ry="6" fill="#368aea" opacity="0.7"/>
<ellipse cx="30" cy="70" rx="7" ry="9" fill="#3480e8" opacity="0.6"/>
<rect x="20" y="20" width="90" height="9" fill="#2f6de5" opacity="0.35"/>
<linearGradient id="tg46" x1="0" y1="0" x2="0" y2="1"><stop offset="0" stop-color="#1f2eaa"/><stop offset="0.25" stop-color="#3276e6"/><stop offset="1" stop-color="#3276e6"/></linearGradient>
<rect x="52" y="3" width="22" height="28" fill="url(#tg46)"/>
<rect x="56" y="6" width="14" height="5" fill="#1f2eaa" opacity="0.8"/>
</g>
<path d="M0,24 L15,24 L21,93 L0,93 Z" fill="#40ccec"/>
<rect x="75" y="29" width="26" height="4" fill="#3b9ded" opacity="0.85"/>
<rect x="0" y="24" width="7" height="9" fill="#40ccec"/>
<path d="M110,34 L116,93" stroke="#40ccec" stroke-width="3" fill="none"/>
<path d="M6,30 L10,93" stroke="#c3f02d" stroke-width="1.2" fill="none"/>
<path d="M9,34 L14,93" stroke="#c3f02d" stroke-width="1.0" fill="none"/>
<path d="M2,40 L5,93" stroke="#3993eb" stroke-width="0.8" fill="none"/>
<path d="M108,42 L113,93 M111,40 L117,93" stroke="#3ea6ee" stroke-width="0.9" fill="none"/>
<path d="M46,44 C28,44 17,58 12,93" stroke="#daf026" stroke-width="5.0" fill="none"/>
<path d="M46,48 C36,49 28,62 24,93" stroke="#88eb50" stroke-width="1.2" fill="none" opacity="0.8"/>
<path d="M80,43.5 C98,43.5 106,60 110,93" stroke="#daf026" stroke-width="5.0" fill="none"/>
<path d="M46,45 C35,45 27,47.5 22,53" stroke="#f0ef21" stroke-width="6.8" fill="none"/>
<path d="M80,44.5 C90,44.5 98,47 103,54" stroke="#f0ef21" stroke-width="6.8" fill="none"/>
<linearGradient id="tg47" x1="0" y1="0" x2="0" y2="1"><stop offset="0" stop-color="#f0ef21"/><stop offset="0.18" stop-color="#f0ee22"/><stop offset="0.22" stop-color="#f0c22e"/><stop offset="0.26" stop-color="#f02f67"/><stop offset="0.3" stop-color="#f7dada"/><stop offset="0.34" stop-color="#fdfbf8"/><stop offset="1" stop-color="#ffffff"/></linearGradient>
<rect x="44" y="42" width="36.5" height="50.8" fill="url(#tg47)"/>
<rect x="47" y="52" width="4" height="2" fill="#c3f02d"/>
<rect x="48.2" y="53" width="1.6" height="12" fill="#c3f02d"/>
<rect x="74" y="52" width="4" height="2" fill="#c3f02d"/>
<rect x="75.2" y="53" width="1.6" height="12" fill="#c3f02d"/>
<path d="M16,79 C35,81 55,80 80,68 S110,56 126,52" stroke="#c3f02d" stroke-width="1.1" fill="none"/>
<linearGradient id="tg48" x1="0" y1="0" x2="0" y2="1"><stop offset="0" stop-color="#f0364e"/><stop offset="0.55" stop-color="#f0364e"/><stop offset="1" stop-color="#f02f67"/></linearGradient>
<path d="M51,29 L58,29 L61,34 L64,34 L67,29 L75,29 L75,43 L51,43 Z" fill="url(#tg48)"/>
<path d="M54,35 L58,33 L62,38 L63,38 L67,33 L72,35 L72,41 L54,41 Z" fill="#fdfaf5"/>
<rect x="11" y="26" width="10" height="17" fill="#40ccec"/>
<rect x="25" y="30" width="7" height="10" fill="#40ccec"/>
<rect x="86" y="29" width="7" height="11" fill="#40ccec"/>
<rect x="95" y="29" width="9" height="12" fill="#40ccec"/>
<rect x="104" y="27" width="10" height="15" fill="#40ccec"/>
<rect x="13" y="29" width="4" height="12" fill="#f0ec24"/>
<rect x="27" y="32" width="3" height="6" fill="#f0ec24"/>
<rect x="97" y="32" width="4" height="6" fill="#f0ec24"/>
<rect x="106" y="30" width="5" height="10" fill="#f0ec24"/>
<rect x="14" y="31" width="2" height="3" fill="#f04c44"/>
<rect x="107" y="31" width="2" height="3" fill="#f04c44"/>
<rect x="98" y="33" width="2" height="2" fill="#f04c44"/>
</g>
</g>
<clipPath id="tc49"><rect x="0" y="0" width="125.8" height="90.8"/></clipPath>
<g transform="translate(527.0,224.0)" clip-path="url(#tc49)"><g filter="url(#tblur)">
<rect x="-2" y="-2" width="129.8" height="94.8" fill="#1c1e92"/>
<g filter="url(#tblur2)">
<linearGradient id="tg50" x1="0" y1="0" x2="0" y2="1"><stop offset="0" stop-color="#1c1e92"/><stop offset="0.3" stop-color="#2237b9"/><stop offset="1" stop-color="#2237b9"/></linearGradient>
<rect x="0" y="20" width="47" height="73" fill="url(#tg50)"/>
<linearGradient id="tg51" x1="0" y1="0" x2="0" y2="1"><stop offset="0" stop-color="#1c1e92"/><stop offset="0.25" stop-color="#233dc3"/><stop offset="1" stop-color="#2544cc"/></linearGradient>
<rect x="80" y="30" width="30" height="63" fill="url(#tg51)"/>
<ellipse cx="95" cy="75" rx="8" ry="6" fill="#2850e0" opacity="0.7"/>
<ellipse cx="30" cy="70" rx="7" ry="9" fill="#264ad6" opacity="0.6"/>
<rect x="20" y="20" width="90" height="9" fill="#264ad6" opacity="0.35"/>
<linearGradient id="tg52" x1="0" y1="0" x2="0" y2="1"><stop offset="0" stop-color="#1c1e92"/><stop offset="0.25" stop-color="#2850e0"/><stop offset="1" stop-color="#2850e0"/></linearGradient>
<rect x="52" y="3" width="22" height="28" fill="url(#tg52)"/>
<rect x="56" y="6" width="14" height="5" fill="#1c1e92" opacity="0.8"/>
</g>
<path d="M0,24 L12,24 L18,93 L0,93 Z" fill="#3ea6ee"/>
<rect x="75" y="29" width="26" height="4" fill="#368aea" opacity="0.85"/>
<rect x="0" y="24" width="7" height="9" fill="#3ea6ee"/>
<path d="M110,34 L116,93" stroke="#3ea6ee" stroke-width="3" fill="none"/>
<path d="M6,30 L10,93" stroke="#40daea" stroke-width="1.2" fill="none"/>
<path d="M9,34 L14,93" stroke="#40daea" stroke-width="1.0" fill="none"/>
<path d="M2,40 L5,93" stroke="#3276e6" stroke-width="0.8" fill="none"/>
<path d="M108,42 L113,93 M111,40 L117,93" stroke="#368aea" stroke-width="0.9" fill="none"/>
<path d="M46,44 C28,44 17,58 12,93" stroke="#40beee" stroke-width="5.0" fill="none"/>
<path d="M46,48 C36,49 28,62 24,93" stroke="#368aea" stroke-width="1.2" fill="none" opacity="0.8"/>
<path d="M80,43.5 C98,43.5 106,60 110,93" stroke="#50e8bb" stroke-width="5.0" fill="none"/>
<path d="M46,45 C35,45 27,47.5 22,53" stroke="#48e8d1" stroke-width="6.8" fill="none"/>
<path d="M80,44.5 C90,44.5 98,47 103,54" stroke="#cef02a" stroke-width="6.8" fill="none"/>
<linearGradient id="tg53" x1="0" y1="0" x2="0" y2="1"><stop offset="0" stop-color="#f0ef21"/><stop offset="0.16" stop-color="#f0ec24"/><stop offset="0.22" stop-color="#f09d35"/><stop offset="0.26" stop-color="#f0335b"/><stop offset="0.3" stop-color="#fcf9f3"/><stop offset="1" stop-color="#ffffff"/></linearGradient>
<rect x="44" y="42" width="36.5" height="50.8" fill="url(#tg53)"/>
<rect x="47" y="52" width="4" height="2" fill="#c3f02d"/>
<rect x="48.2" y="53" width="1.6" height="12" fill="#c3f02d"/>
<rect x="74" y="52" width="4" height="2" fill="#c3f02d"/>
<rect x="75.2" y="53" width="1.6" height="12" fill="#c3f02d"/>
<path d="M16,79 C35,81 55,80 80,68 S110,56 126,52" stroke="#60e88d" stroke-width="1.1" fill="none"/>
<linearGradient id="tg54" x1="0" y1="0" x2="0" y2="1"><stop offset="0" stop-color="#f0ee22"/><stop offset="0.55" stop-color="#f0ee22"/><stop offset="1" stop-color="#f09d35"/></linearGradient>
<path d="M51,29 L58,29 L61,34 L64,34 L67,29 L75,29 L75,43 L51,43 Z" fill="url(#tg54)"/>
<rect x="11" y="26" width="10" height="17" fill="#40b0f0"/>
<rect x="25" y="30" width="7" height="10" fill="#40b0f0"/>
<rect x="86" y="29" width="7" height="11" fill="#40b0f0"/>
<rect x="95" y="29" width="9" height="12" fill="#40b0f0"/>
<rect x="104" y="27" width="10" height="15" fill="#40b0f0"/>
<rect x="13" y="29" width="4" height="12" fill="#f0ee22"/>
<rect x="27" y="32" width="3" height="6" fill="#f0ee22"/>
<rect x="97" y="32" width="4" height="6" fill="#f0ee22"/>
<rect x="106" y="30" width="5" height="10" fill="#f0ee22"/>
</g>
<text x="95" y="81.2" font-size="9.3" fill="#fff">20 mm</text>
<rect x="100.6" y="86.3" width="15.4" height="2.6" fill="#fff"/>
</g>
<text x="322.0" y="29.3" font-size="9.4" fill="#fff">Nearby TIM</text>
<line x1="320.2" y1="27.6" x2="306.2" y2="45.5" stroke="#fff" stroke-width="0.7"/>
<text x="288.40" y="8.00" font-size="9.3" text-anchor="start" fill="#222" >Air-50 W/cm<tspan dy="-3.2" font-size="6.2">2</tspan></text>
<text x="398.80" y="8.00" font-size="9.35" text-anchor="start" fill="#222" >Silicone grease-200 W/cm<tspan dy="-3.2" font-size="6.2">2</tspan></text>
<text x="547.80" y="8.00" font-size="9.35" text-anchor="start" fill="#222" >Colloidal LM-200 W/cm<tspan dy="-3.2" font-size="6.2">2</tspan></text>
<text transform="translate(240.80,58.80) rotate(-90)" font-size="9.3" text-anchor="middle" fill="#151515">2.5 min</text>
<text transform="translate(240.80,161.00) rotate(-90)" font-size="9.3" text-anchor="middle" fill="#151515">10 min</text>
<text transform="translate(240.80,262.00) rotate(-90)" font-size="9.3" text-anchor="middle" fill="#151515">30 min</text>
<linearGradient id="cbar" x1="0" y1="0" x2="0" y2="1"><stop offset="0.0" stop-color="#ffffff"/><stop offset="0.07" stop-color="#fbf6ee"/><stop offset="0.12" stop-color="#f5c8cc"/><stop offset="0.24" stop-color="#f02880"/><stop offset="0.33" stop-color="#f03848"/><stop offset="0.37" stop-color="#f08a38"/><stop offset="0.42" stop-color="#f0e828"/><stop offset="0.6" stop-color="#f0f020"/><stop offset="0.65" stop-color="#b8f030"/><stop offset="0.68" stop-color="#70e860"/><stop offset="0.74" stop-color="#40e8e8"/><stop offset="0.78" stop-color="#40b0f0"/><stop offset="0.88" stop-color="#2850e0"/><stop offset="0.97" stop-color="#1a1888"/><stop offset="1.0" stop-color="#14107a"/></linearGradient>
<rect x="660.5" y="41.4" width="7" height="246.5" fill="url(#cbar)" stroke="#555" stroke-width="0.5"/>
<text x="656.80" y="28.40" font-size="9.3" text-anchor="start" fill="#222" >160 <tspan dy="-3.2" font-size="6.2">o</tspan><tspan dy="3.2">C</tspan></text>
<text x="659.60" y="303.40" font-size="9.3" text-anchor="start" fill="#222" >20 <tspan dy="-3.2" font-size="6.2">o</tspan><tspan dy="3.2">C</tspan></text>
<g>
<clipPath id="clipd"><rect x="34.7" y="349.8" width="172.0" height="183.7"/></clipPath>
<g clip-path="url(#clipd)">
<polyline points="38.69,529.80 39.36,523.76 40.02,517.46 40.69,511.11 41.36,504.89 42.03,498.99 42.69,493.61 43.36,488.94 44.03,484.78 44.69,480.89 45.36,477.25 46.03,473.87 46.70,470.72 47.36,467.80 48.03,465.08 48.70,462.52 49.37,460.06 50.03,457.71 50.70,455.45 51.37,453.28 52.03,451.19 52.70,449.17 53.37,447.23 54.04,445.35 54.70,443.52 55.37,441.75 56.04,440.02 56.70,438.32 57.37,436.66 58.04,435.03 58.71,433.44 59.37,431.89 60.04,430.37 60.71,428.88 61.37,427.43 62.04,426.01 62.71,424.62 63.38,423.26 64.04,421.93 64.71,420.62 65.38,419.34 66.05,418.08 66.71,416.85 67.38,415.64 68.05,414.45 68.71,413.28 69.38,412.13 70.05,411.01 70.72,409.91 71.38,408.84 72.05,407.79 72.72,406.77 73.38,405.76 74.05,404.76 74.72,403.79 75.39,402.82 76.05,401.87 76.72,400.92 77.39,399.98 78.05,399.05 78.72,398.12 79.39,397.19 80.06,396.26 80.72,395.32 81.39,394.37 82.06,393.41 82.73,392.43 83.39,391.45 84.06,390.47 84.73,389.48 85.39,388.51 86.06,387.54 86.73,386.59 87.40,385.67 88.06,384.77 88.73,383.90 89.40,383.07 90.06,382.28 90.73,381.53 91.40,380.84 92.07,380.20 92.73,379.61 93.40,379.07 94.07,378.55 94.73,378.06 95.40,377.60 96.07,377.15 96.74,376.73 97.40,376.32 98.07,375.92 98.74,375.52 99.41,375.13 100.07,374.75 100.74,374.36 101.41,373.96 102.07,373.56 102.74,373.14 103.41,372.71 104.08,372.26 104.74,371.80 105.41,371.32 106.08,370.84 106.74,370.36 107.41,369.87 108.08,369.38 108.75,368.88 109.41,368.39 110.08,367.91 110.75,367.43 111.41,366.95 112.08,366.49 112.75,366.04 113.42,365.59 114.08,365.14 114.75,364.70 115.42,364.26 116.09,363.82 116.75,363.39 117.42,362.96 118.09,362.53 118.75,362.10 119.42,361.68 120.09,361.26 120.76,360.85 121.42,360.43 122.09,360.02 122.76,359.61 123.42,359.21 124.09,358.80 124.76,358.41 125.43,358.01 126.09,357.62 126.76,357.23 127.43,356.84 128.09,356.45 128.76,356.07 129.43,355.68 130.10,355.29 130.76,354.91 131.43,354.52 132.10,354.14 132.77,353.75 133.43,353.37 134.10,352.99 134.77,352.61 135.43,352.23 136.10,351.85 136.77,351.47 137.44,351.09 138.10,350.71 138.77,350.34 139.44,349.96 140.10,349.58 140.77,349.20 141.44,348.90" fill="none" stroke="#c8c8c8" stroke-width="0.9" stroke-linejoin="round"/>
<polyline points="38.69,529.80 39.36,523.85 40.02,517.65 40.69,511.39 41.36,505.26 42.03,499.45 42.69,494.15 43.36,489.55 44.03,485.44 44.69,481.60 45.36,478.01 46.03,474.67 46.70,471.56 47.36,468.67 48.03,465.98 48.70,463.45 49.37,461.02 50.03,458.69 50.70,456.45 51.37,454.30 52.03,452.24 52.70,450.24 53.37,448.32 54.04,446.46 54.70,444.65 55.37,442.89 56.04,441.18 56.70,439.51 57.37,437.86 58.04,436.26 58.71,434.69 59.37,433.16 60.04,431.66 60.71,430.20 61.37,428.77 62.04,427.38 62.71,426.01 63.38,424.67 64.04,423.36 64.71,422.07 65.38,420.81 66.05,419.57 66.71,418.34 67.38,417.14 68.05,415.95 68.71,414.78 69.38,413.63 70.05,412.49 70.72,411.37 71.38,410.27 72.05,409.19 72.72,408.13 73.38,407.08 74.05,406.05 74.72,405.03 75.39,404.04 76.05,403.05 76.72,402.08 77.39,401.12 78.05,400.18 78.72,399.25 79.39,398.33 80.06,397.42 80.72,396.53 81.39,395.64 82.06,394.75 82.73,393.87 83.39,393.00 84.06,392.14 84.73,391.29 85.39,390.44 86.06,389.62 86.73,388.80 87.40,388.00 88.06,387.21 88.73,386.45 89.40,385.70 90.06,384.97 90.73,384.26 91.40,383.58 92.07,382.92 92.73,382.28 93.40,381.66 94.07,381.06 94.73,380.48 95.40,379.90 96.07,379.35 96.74,378.80 97.40,378.27 98.07,377.74 98.74,377.23 99.41,376.72 100.07,376.22 100.74,375.73 101.41,375.24 102.07,374.76 102.74,374.27 103.41,373.79 104.08,373.31 104.74,372.83 105.41,372.36 106.08,371.90 106.74,371.44 107.41,370.98 108.08,370.54 108.75,370.10 109.41,369.66 110.08,369.23 110.75,368.81 111.41,368.39 112.08,367.97 112.75,367.56 113.42,367.16 114.08,366.77 114.75,366.38 115.42,366.00 116.09,365.62 116.75,365.24 117.42,364.87 118.09,364.50 118.75,364.13 119.42,363.76 120.09,363.39 120.76,363.02 121.42,362.64 122.09,362.26 122.76,361.88 123.42,361.50 124.09,361.12 124.76,360.75 125.43,360.38 126.09,360.00 126.76,359.63 127.43,359.25 128.09,358.86 128.76,358.47 129.43,358.07 130.10,357.66 130.76,357.24 131.43,356.81 132.10,356.36 132.77,355.89 133.43,355.41 134.10,354.90 134.77,354.39 135.43,353.86 136.10,353.32 136.77,352.77 137.44,352.22 138.10,351.66 138.77,351.11 139.44,350.55 140.10,350.00 140.77,349.45 141.44,348.91" fill="none" stroke="#7cb455" stroke-width="0.9" stroke-linejoin="round"/>
<polyline points="38.69,529.80 39.36,523.99 40.02,517.95 40.69,511.85 41.36,505.89 42.03,500.20 42.69,495.01 43.36,490.44 44.03,486.29 44.69,482.40 45.36,478.74 46.03,475.36 46.70,472.20 47.36,469.29 48.03,466.59 48.70,464.06 49.37,461.69 50.03,459.39 50.70,457.18 51.37,454.99 52.03,452.93 52.70,451.00 53.37,449.07 54.04,447.29 54.70,445.51 55.37,443.84 56.04,442.23 56.70,440.53 57.37,438.98 58.04,437.45 58.71,435.85 59.37,434.33 60.04,432.95 60.71,431.49 61.37,430.15 62.04,428.81 62.71,427.58 63.38,426.24 64.04,424.99 64.71,423.71 65.38,422.49 66.05,421.41 66.71,420.31 67.38,419.26 68.05,418.21 68.71,417.17 69.38,416.08 70.05,414.95 70.72,413.99 71.38,412.87 72.05,411.88 72.72,410.91 73.38,409.83 74.05,408.88 74.72,407.98 75.39,407.05 76.05,406.07 76.72,405.29 77.39,404.25 78.05,403.51 78.72,402.55 79.39,401.59 80.06,400.90 80.72,399.94 81.39,399.14 82.06,398.27 82.73,397.58 83.39,396.83 84.06,396.03 84.73,394.99 85.39,394.25 86.06,393.33 86.73,392.41 87.40,391.53 88.06,390.88 88.73,390.21 89.40,389.48 90.06,388.70 90.73,388.16 91.40,387.41 92.07,386.69 92.73,386.00 93.40,385.59 94.07,384.85 94.73,384.42 95.40,383.87 96.07,383.24 96.74,382.55 97.40,382.08 98.07,381.43 98.74,380.94 99.41,380.52 100.07,380.09 100.74,379.71 101.41,379.34 102.07,378.95 102.74,378.40 103.41,377.83 104.08,377.58 104.74,377.34 105.41,376.79 106.08,376.44 106.74,376.14 107.41,375.89 108.08,375.51 108.75,375.09 109.41,374.82 110.08,374.55 110.75,374.39 111.41,373.93 112.08,373.80 112.75,373.49 113.42,373.10 114.08,372.96 114.75,372.61 115.42,372.23 116.09,371.99 116.75,371.71 117.42,371.66 118.09,371.46 118.75,371.35 119.42,371.00 120.09,370.87 120.76,370.68 121.42,370.33 122.09,370.08 122.76,369.83 123.42,369.76 124.09,369.67 124.76,369.50 125.43,369.42 126.09,369.39 126.76,369.30 127.43,369.28 128.09,369.17 128.76,368.87 129.43,368.64 130.10,368.54 130.76,368.47 131.43,368.43 132.10,368.44 132.77,368.35 133.43,368.08 134.10,367.82 134.77,367.73 135.43,367.48 136.10,367.24 136.77,367.03 137.44,366.83 138.10,366.58 138.77,366.46 139.44,366.19 140.10,366.06 140.77,365.83 141.44,365.52 142.11,365.25 142.77,365.10 143.44,364.74 144.11,364.50 144.77,364.29 145.44,364.26 146.11,364.01 146.78,363.87 147.44,363.60 148.11,363.42 148.78,363.15 149.45,362.95 150.11,362.71 150.78,362.62 151.45,362.41 152.11,362.18 152.78,361.93 153.45,361.85 154.12,361.60 154.78,361.37 155.45,361.22 156.12,361.00 156.78,360.82 157.45,360.79 158.12,360.76 158.79,360.83 159.45,360.68 160.12,360.55 160.79,360.61 161.45,360.60 162.12,360.60 162.79,360.61 163.46,360.80 164.12,360.77 164.79,360.83 165.46,360.86 166.13,360.98 166.79,361.02 167.46,361.02 168.13,361.07 168.79,361.11 169.46,361.35 170.13,361.49 170.80,361.52 171.46,361.47 172.13,361.58 172.80,361.51 173.46,361.47 174.13,361.60 174.80,361.51 175.47,361.46 176.13,361.42 176.80,361.31 177.47,361.11 178.13,360.95 178.80,360.78 179.47,360.66 180.14,360.41 180.80,360.23 181.47,360.02 182.14,359.87 182.81,359.85 183.47,359.61 184.14,359.69 184.81,359.60 185.47,359.55 186.14,359.46 186.81,359.46 187.48,359.23 188.14,359.19 188.81,359.25 189.48,359.10 190.14,359.14 190.81,359.03 191.48,359.00 192.15,358.91 192.81,358.73 193.48,358.65 194.15,358.71 194.81,358.68 195.48,358.76 196.15,358.97 196.82,359.26 197.48,359.41 198.15,359.62 198.82,359.73 199.49,359.90 200.15,360.21 200.82,360.59 201.49,360.78 202.15,361.26 202.82,361.63 203.49,361.82" fill="none" stroke="#333333" stroke-width="0.9" stroke-linejoin="round"/>
<polyline points="38.69,529.80 39.36,523.52 40.02,516.99 40.69,510.40 41.36,503.96 42.03,497.84 42.69,492.27 43.36,487.42 44.03,483.14 44.69,479.15 45.36,475.45 46.03,471.97 46.70,468.72 47.36,465.68 48.03,462.80 48.70,460.02 49.37,457.36 50.03,454.75 50.70,452.19 51.37,449.78 52.03,447.38 52.70,445.09 53.37,442.86 54.04,440.78 54.70,438.79 55.37,436.79 56.04,434.88 56.70,433.10 57.37,431.44 58.04,429.83 58.71,428.20 59.37,426.69 60.04,425.13 60.71,423.69 61.37,422.36 62.04,420.98 62.71,419.69 63.38,418.33 64.04,417.02 64.71,415.82 65.38,414.61 66.05,413.40 66.71,412.19 67.38,410.95 68.05,409.93 68.71,408.79 69.38,407.59 70.05,406.48 70.72,405.31 71.38,404.28 72.05,403.05 72.72,401.96 73.38,400.97 74.05,399.84 74.72,398.83 75.39,397.84 76.05,396.77 76.72,395.81 77.39,394.83 78.05,393.66 78.72,392.58 79.39,391.73 80.06,390.62 80.72,389.76 81.39,388.76 82.06,387.57 82.73,386.49 83.39,385.51 84.06,384.49 84.73,383.45 85.39,382.50 86.06,381.27 86.73,380.41 87.40,379.42 88.06,378.36 88.73,377.47 89.40,376.45 90.06,375.73 90.73,374.82 91.40,374.03 92.07,373.39 92.73,372.75 93.40,372.26 94.07,371.65 94.73,371.07 95.40,370.59 96.07,370.13 96.74,369.59 97.40,369.17 98.07,368.85 98.74,368.31 99.41,367.97 100.07,367.56 100.74,367.10 101.41,366.88 102.07,366.71 102.74,366.50 103.41,366.17 104.08,365.98 104.74,365.85 105.41,365.67 106.08,365.37 106.74,365.34 107.41,365.25 108.08,365.02 108.75,364.92 109.41,364.92 110.08,364.82 110.75,364.71 111.41,364.70 112.08,364.56 112.75,364.44 113.42,364.16 114.08,364.06 114.75,363.84 115.42,363.54 116.09,363.29 116.75,363.22 117.42,363.05 118.09,362.96 118.75,362.81 119.42,362.61 120.09,362.30 120.76,361.94 121.42,361.76 122.09,361.60 122.76,361.25 123.42,361.02 124.09,360.78 124.76,360.31 125.43,360.12 126.09,359.77 126.76,359.62 127.43,359.36 128.09,359.25 128.76,359.51 129.43,359.76 130.10,359.82 130.76,360.06 131.43,360.37 132.10,360.55 132.77,360.70 133.43,360.89 134.10,360.98 134.77,361.11 135.43,361.09 136.10,361.12 136.77,360.95 137.44,360.81 138.10,360.80 138.77,360.61 139.44,360.59 140.10,360.52 140.77,360.27 141.44,360.09 142.11,359.79 142.77,359.62 143.44,359.42 144.11,359.42 144.77,359.15 145.44,359.11 146.11,358.85 146.78,358.51 147.44,358.19 148.11,357.89 148.78,357.73 149.45,357.47 150.11,357.17 150.78,357.07 151.45,356.68 152.11,356.33 152.78,356.15 153.45,355.85 154.12,355.66 154.78,355.50 155.45,355.15 156.12,354.99 156.78,354.56 157.45,354.09 158.12,353.87 158.79,353.42 159.45,353.27 160.12,352.84 160.79,352.63 161.45,352.21 162.12,352.01 162.79,351.67 163.46,351.66 164.12,351.61 164.79,351.35 165.46,351.23 166.13,351.16 166.79,351.25 167.46,351.26 168.13,351.20 168.79,351.24 169.46,350.98 170.13,350.86 170.80,350.70 171.46,350.66 172.13,350.73 172.80,350.85 173.46,350.73 174.13,350.81 174.80,350.72 175.47,350.67 176.13,350.60 176.80,350.66 177.47,350.68 178.13,350.53 178.80,350.55 179.47,350.39 180.14,350.36 180.80,350.28 181.47,350.23 182.14,350.05 182.81,349.94 183.47,349.89 184.14,349.82 184.81,349.64 185.47,349.39 186.14,349.32 186.81,349.33 187.48,349.26 188.14,349.20 188.81,349.03 189.48,348.90" fill="none" stroke="#e57d7f" stroke-width="0.9" stroke-linejoin="round"/>
<polyline points="38.69,529.80 39.36,527.39 40.02,524.95 40.69,522.51 41.36,520.07 42.03,517.68 42.69,515.37 43.36,513.13 44.03,510.93 44.69,508.68 45.36,506.48 46.03,504.38 46.70,502.40 47.36,500.61 48.03,499.12 48.70,497.78 49.37,496.47 50.03,495.20 50.70,494.02 51.37,492.92 52.03,491.82 52.70,490.86 53.37,489.87 54.04,488.99 54.70,488.17 55.37,487.40 56.04,486.64 56.70,485.88 57.37,485.24 58.04,484.59 58.71,483.96 59.37,483.40 60.04,482.84 60.71,482.37 61.37,481.90 62.04,481.43 62.71,480.91 63.38,480.45 64.04,480.03 64.71,479.57 65.38,479.16 66.05,478.77 66.71,478.32 67.38,477.89 68.05,477.56 68.71,477.16 69.38,476.77 70.05,476.34 70.72,475.96 71.38,475.67 72.05,475.25 72.72,475.03 73.38,474.72 74.05,474.35 74.72,474.12 75.39,473.80 76.05,473.58 76.72,473.21 77.39,472.83 78.05,472.51 78.72,472.13 79.39,471.89 80.06,471.53 80.72,471.20 81.39,470.87 82.06,470.55 82.73,470.13 83.39,469.70 84.06,469.41 84.73,469.04 85.39,468.83 86.06,468.41 86.73,468.03 87.40,467.58 88.06,467.21 88.73,466.98 89.40,466.70 90.06,466.36 90.73,466.19 91.40,465.89 92.07,465.68 92.73,465.48 93.40,465.28 94.07,464.89 94.73,464.69 95.40,464.46 96.07,464.19 96.74,463.81 97.40,463.68 98.07,463.43 98.74,463.17 99.41,462.86 100.07,462.60 100.74,462.37 101.41,462.30 102.07,462.18 102.74,462.09 103.41,461.87 104.08,461.68 104.74,461.71 105.41,461.71 106.08,461.67 106.74,461.61 107.41,461.49 108.08,461.36 108.75,461.32 109.41,461.34 110.08,461.23 110.75,461.15 111.41,461.03 112.08,460.83 112.75,460.74 113.42,460.70 114.08,460.63 114.75,460.55 115.42,460.64 116.09,460.48 116.75,460.38 117.42,460.28 118.09,460.22 118.75,460.26 119.42,460.28 120.09,460.36 120.76,460.28 121.42,460.35 122.09,460.39 122.76,460.38 123.42,460.38 124.09,460.33 124.76,460.36 125.43,460.39 126.09,460.36 126.76,460.36 127.43,460.28 128.09,460.31 128.76,460.12 129.43,460.04 130.10,460.10 130.76,460.11 131.43,460.09 132.10,460.07 132.77,460.11 133.43,459.96 134.10,459.82 134.77,459.84 135.43,459.85 136.10,459.95 136.77,460.01 137.44,459.99 138.10,460.00 138.77,459.86 139.44,459.92 140.10,459.99 140.77,459.82 141.44,459.79 142.11,459.86 142.77,459.81 143.44,459.89 144.11,459.82 144.77,459.66 145.44,459.57 146.11,459.54 146.78,459.62 147.44,459.64 148.11,459.70 148.78,459.59 149.45,459.55 150.11,459.46 150.78,459.49 151.45,459.52 152.11,459.39 152.78,459.25 153.45,459.16 154.12,459.09 154.78,459.03 155.45,458.99 156.12,459.06 156.78,459.03 157.45,459.03 158.12,459.09 158.79,459.12 159.45,459.06 160.12,459.01 160.79,458.85 161.45,458.66 162.12,458.63 162.79,458.48 163.46,458.35 164.12,458.25 164.79,458.31 165.46,458.38 166.13,458.41 166.79,458.43 167.46,458.43 168.13,458.32 168.79,458.17 169.46,458.07 170.13,458.09 170.80,458.05 171.46,457.99 172.13,458.12 172.80,458.07 173.46,457.98 174.13,457.95 174.80,457.94 175.47,458.00 176.13,458.12 176.80,458.06 177.47,458.13 178.13,458.08 178.80,458.00 179.47,458.10 180.14,458.17 180.80,458.09 181.47,458.09 182.14,458.24 182.81,458.35 183.47,458.44 184.14,458.32 184.81,458.26 185.47,458.39 186.14,458.32 186.81,458.23 187.48,458.26 188.14,458.35 188.81,458.37 189.48,458.49 190.14,458.60 190.81,458.46 191.48,458.44 192.15,458.45 192.81,458.37 193.48,458.44 194.15,458.38 194.81,458.36 195.48,458.49 196.15,458.58 196.82,458.64 197.48,458.69 198.15,458.65 198.82,458.70 199.49,458.71 200.15,458.78 200.82,458.65 201.49,458.69 202.15,458.70 202.82,458.68 203.49,458.60" fill="none" stroke="#3a82ae" stroke-width="0.9" stroke-linejoin="round"/>
</g>
<rect x="34.70" y="349.80" width="172.00" height="183.70" fill="none" stroke="#000" stroke-width="1.7"/>
<line x1="30.70" y1="529.80" x2="34.70" y2="529.80" stroke="#000" stroke-width="1.3" />
<text x="28.30" y="532.90" font-size="8.7" text-anchor="end" fill="#151515" >20</text>
<line x1="30.70" y1="499.80" x2="34.70" y2="499.80" stroke="#000" stroke-width="1.3" />
<text x="28.30" y="502.90" font-size="8.7" text-anchor="end" fill="#151515" >40</text>
<line x1="30.70" y1="469.80" x2="34.70" y2="469.80" stroke="#000" stroke-width="1.3" />
<text x="28.30" y="472.90" font-size="8.7" text-anchor="end" fill="#151515" >60</text>
<line x1="30.70" y1="439.80" x2="34.70" y2="439.80" stroke="#000" stroke-width="1.3" />
<text x="28.30" y="442.90" font-size="8.7" text-anchor="end" fill="#151515" >80</text>
<line x1="30.70" y1="409.80" x2="34.70" y2="409.80" stroke="#000" stroke-width="1.3" />
<text x="28.30" y="412.90" font-size="8.7" text-anchor="end" fill="#151515" >100</text>
<line x1="30.70" y1="379.80" x2="34.70" y2="379.80" stroke="#000" stroke-width="1.3" />
<text x="28.30" y="382.90" font-size="8.7" text-anchor="end" fill="#151515" >120</text>
<line x1="30.70" y1="349.80" x2="34.70" y2="349.80" stroke="#000" stroke-width="1.3" />
<text x="28.30" y="352.90" font-size="8.7" text-anchor="end" fill="#151515" >140</text>
<line x1="32.30" y1="514.80" x2="34.70" y2="514.80" stroke="#000" stroke-width="1.3" />
<line x1="32.30" y1="484.80" x2="34.70" y2="484.80" stroke="#000" stroke-width="1.3" />
<line x1="32.30" y1="454.80" x2="34.70" y2="454.80" stroke="#000" stroke-width="1.3" />
<line x1="32.30" y1="424.80" x2="34.70" y2="424.80" stroke="#000" stroke-width="1.3" />
<line x1="32.30" y1="394.80" x2="34.70" y2="394.80" stroke="#000" stroke-width="1.3" />
<line x1="32.30" y1="364.80" x2="34.70" y2="364.80" stroke="#000" stroke-width="1.3" />
<line x1="37.30" y1="533.50" x2="37.30" y2="537.50" stroke="#000" stroke-width="1.3" />
<text x="37.30" y="547.50" font-size="8.7" text-anchor="middle" fill="#151515" >0</text>
<line x1="65.10" y1="533.50" x2="65.10" y2="537.50" stroke="#000" stroke-width="1.3" />
<text x="65.10" y="547.50" font-size="8.7" text-anchor="middle" fill="#151515" >5</text>
<line x1="92.90" y1="533.50" x2="92.90" y2="537.50" stroke="#000" stroke-width="1.3" />
<text x="92.90" y="547.50" font-size="8.7" text-anchor="middle" fill="#151515" >10</text>
<line x1="120.70" y1="533.50" x2="120.70" y2="537.50" stroke="#000" stroke-width="1.3" />
<text x="120.70" y="547.50" font-size="8.7" text-anchor="middle" fill="#151515" >15</text>
<line x1="148.50" y1="533.50" x2="148.50" y2="537.50" stroke="#000" stroke-width="1.3" />
<text x="148.50" y="547.50" font-size="8.7" text-anchor="middle" fill="#151515" >20</text>
<line x1="176.30" y1="533.50" x2="176.30" y2="537.50" stroke="#000" stroke-width="1.3" />
<text x="176.30" y="547.50" font-size="8.7" text-anchor="middle" fill="#151515" >25</text>
<line x1="204.10" y1="533.50" x2="204.10" y2="537.50" stroke="#000" stroke-width="1.3" />
<text x="204.10" y="547.50" font-size="8.7" text-anchor="middle" fill="#151515" >30</text>
<line x1="51.20" y1="533.50" x2="51.20" y2="535.90" stroke="#000" stroke-width="1.3" />
<line x1="79.00" y1="533.50" x2="79.00" y2="535.90" stroke="#000" stroke-width="1.3" />
<line x1="106.80" y1="533.50" x2="106.80" y2="535.90" stroke="#000" stroke-width="1.3" />
<line x1="134.60" y1="533.50" x2="134.60" y2="535.90" stroke="#000" stroke-width="1.3" />
<line x1="162.40" y1="533.50" x2="162.40" y2="535.90" stroke="#000" stroke-width="1.3" />
<line x1="190.20" y1="533.50" x2="190.20" y2="535.90" stroke="#000" stroke-width="1.3" />
<text transform="translate(9.30,435.20) rotate(-90)" font-size="10.8" text-anchor="middle" fill="#151515">Average temperature (<tspan dy="-3" font-size="7">o</tspan><tspan dy="3">C)</tspan></text>
<text x="120.90" y="563.70" font-size="10.8" text-anchor="middle" fill="#151515" >Time (min)</text>
<line x1="83.50" y1="478.80" x2="98.80" y2="478.80" stroke="#333333" stroke-width="1.0" />
<text x="102.10" y="481.90" font-size="8.9" text-anchor="start" fill="#151515" >Noctua NT-H2</text>
<line x1="83.50" y1="489.80" x2="98.80" y2="489.80" stroke="#e57d7f" stroke-width="1.0" />
<text x="102.10" y="492.90" font-size="8.9" text-anchor="start" fill="#151515" >Thermal Grizzly Kryonaut</text>
<line x1="83.50" y1="500.80" x2="98.80" y2="500.80" stroke="#7cb455" stroke-width="1.0" />
<text x="102.10" y="503.90" font-size="8.9" text-anchor="start" fill="#151515" >SYY 157</text>
<line x1="83.50" y1="511.80" x2="98.80" y2="511.80" stroke="#c8c8c8" stroke-width="1.0" />
<text x="102.10" y="514.90" font-size="8.9" text-anchor="start" fill="#151515" >DOWSIL TC-5026</text>
<line x1="83.50" y1="522.80" x2="98.80" y2="522.80" stroke="#3a82ae" stroke-width="1.0" />
<text x="102.10" y="525.90" font-size="8.9" text-anchor="start" fill="#151515" >Colloidal LM</text>
</g>
<g>
<clipPath id="clipe"><rect x="262.6" y="349.8" width="172.0" height="183.7"/></clipPath>
<g clip-path="url(#clipe)">
<polyline points="266.70,529.80 267.37,525.31 268.04,520.62 268.70,515.88 269.37,511.25 270.04,506.88 270.70,502.93 271.37,499.54 272.04,496.55 272.71,493.77 273.37,491.19 274.04,488.79 274.71,486.59 275.37,484.56 276.04,482.70 276.71,480.96 277.38,479.30 278.04,477.71 278.71,476.18 279.38,474.73 280.05,473.33 280.71,471.99 281.38,470.71 282.05,469.48 282.71,468.30 283.38,467.17 284.05,466.07 284.72,465.02 285.38,464.00 286.05,463.00 286.72,462.03 287.38,461.07 288.05,460.14 288.72,459.23 289.39,458.34 290.05,457.48 290.72,456.64 291.39,455.83 292.05,455.05 292.72,454.30 293.39,453.58 294.06,452.88 294.72,452.22 295.39,451.59 296.06,451.00 296.73,450.43 297.39,449.90 298.06,449.39 298.73,448.88 299.39,448.40 300.06,447.92 300.73,447.47 301.40,447.02 302.06,446.60 302.73,446.18 303.40,445.79 304.06,445.41 304.73,445.04 305.40,444.69 306.07,444.36 306.73,444.04 307.40,443.74 308.07,443.45 308.73,443.18 309.40,442.93 310.07,442.68 310.74,442.45 311.40,442.22 312.07,442.00 312.74,441.79 313.41,441.59 314.07,441.40 314.74,441.21 315.41,441.02 316.07,440.84 316.74,440.67 317.41,440.50 318.08,440.33 318.74,440.17 319.41,440.00 320.08,439.84 320.74,439.68 321.41,439.52 322.08,439.36 322.75,439.21 323.41,439.05 324.08,438.90 324.75,438.76 325.41,438.61 326.08,438.47 326.75,438.33 327.42,438.20 328.08,438.07 328.75,437.94 329.42,437.82 330.09,437.70 330.75,437.59 331.42,437.48 332.09,437.37 332.75,437.27 333.42,437.17 334.09,437.07 334.76,436.97 335.42,436.88 336.09,436.78 336.76,436.69 337.42,436.60 338.09,436.51 338.76,436.42 339.43,436.33 340.09,436.24 340.76,436.16 341.43,436.08 342.09,436.00 342.76,435.92 343.43,435.84 344.10,435.76 344.76,435.69 345.43,435.62 346.10,435.55 346.77,435.48 347.43,435.41 348.10,435.34 348.77,435.28 349.43,435.22 350.10,435.16 350.77,435.10 351.44,435.04 352.10,434.99 352.77,434.93 353.44,434.88 354.10,434.83 354.77,434.77 355.44,434.72 356.11,434.67 356.77,434.62 357.44,434.57 358.11,434.52 358.77,434.47 359.44,434.42 360.11,434.37 360.78,434.32 361.44,434.28 362.11,434.23 362.78,434.18 363.45,434.14 364.11,434.09 364.78,434.05 365.45,434.01 366.11,433.96 366.78,433.92 367.45,433.88 368.12,433.84 368.78,433.80 369.45,433.76 370.12,433.72 370.78,433.68 371.45,433.64 372.12,433.60 372.79,433.56 373.45,433.53 374.12,433.49 374.79,433.46 375.45,433.42 376.12,433.39 376.79,433.35 377.46,433.32 378.12,433.29 378.79,433.26 379.46,433.22 380.13,433.19 380.79,433.16 381.46,433.13 382.13,433.11 382.79,433.08 383.46,433.05 384.13,433.02 384.80,433.00 385.46,432.97 386.13,432.95 386.80,432.93 387.46,432.90 388.13,432.88 388.80,432.86 389.47,432.84 390.13,432.81 390.80,432.79 391.47,432.77 392.13,432.75 392.80,432.73 393.47,432.71 394.14,432.69 394.80,432.67 395.47,432.66 396.14,432.64 396.81,432.62 397.47,432.60 398.14,432.58 398.81,432.57 399.47,432.55 400.14,432.53 400.81,432.52 401.48,432.50 402.14,432.48 402.81,432.47 403.48,432.45 404.14,432.44 404.81,432.42 405.48,432.41 406.15,432.39 406.81,432.38 407.48,432.36 408.15,432.35 408.81,432.34 409.48,432.32 410.15,432.31 410.82,432.29 411.48,432.28 412.15,432.27 412.82,432.25 413.49,432.24 414.15,432.23 414.82,432.21 415.49,432.20 416.15,432.19 416.82,432.17 417.49,432.16 418.16,432.15 418.82,432.13 419.49,432.12 420.16,432.10 420.82,432.09 421.49,432.08 422.16,432.06 422.83,432.05 423.49,432.04 424.16,432.02 424.83,432.01 425.49,431.99 426.16,431.98 426.83,431.97 427.50,431.95 428.16,431.94 428.83,431.92 429.50,431.91 430.17,431.89 430.83,431.88 431.50,431.86" fill="none" stroke="#a9d6e6" stroke-width="0.9" stroke-linejoin="round"/>
<polyline points="266.70,529.80 267.37,522.50 268.04,514.97 268.70,507.38 269.37,499.91 270.04,492.76 270.70,486.11 271.37,480.13 272.04,474.68 272.71,469.53 273.37,464.66 274.04,460.05 274.71,455.69 275.37,451.53 276.04,447.58 276.71,443.82 277.38,440.26 278.04,436.87 278.71,433.61 279.38,430.47 280.05,427.41 280.71,424.40 281.38,421.44 282.05,418.53 282.71,415.70 283.38,412.96 284.05,410.34 284.72,407.83 285.38,405.47 286.05,403.21 286.72,401.03 287.38,398.93 288.05,396.88 288.72,394.90 289.39,392.97 290.05,391.08 290.72,389.24 291.39,387.43 292.05,385.64 292.72,383.88 293.39,382.14 294.06,380.43 294.72,378.75 295.39,377.10 296.06,375.49 296.73,373.93 297.39,372.40 298.06,370.93 298.73,369.51 299.39,368.13 300.06,366.79 300.73,365.48 301.40,364.19 302.06,362.94 302.73,361.72 303.40,360.53 304.06,359.39 304.73,358.29 305.40,357.23 306.07,356.21 306.73,355.24 307.40,354.33 308.07,353.46 308.73,352.63 309.40,351.82 310.07,351.03 310.74,350.26 311.40,349.48 312.07,348.90" fill="none" stroke="#222222" stroke-width="0.9" stroke-linejoin="round"/>
<polyline points="266.70,529.80 267.37,523.77 268.04,517.40 268.70,510.94 269.37,504.67 270.04,498.85 270.70,493.73 271.37,489.60 272.04,486.16 272.71,483.07 273.37,480.27 274.04,477.71 274.71,475.34 275.37,473.12 276.04,470.97 276.71,468.89 277.38,466.87 278.04,464.90 278.71,463.00 279.38,461.17 280.05,459.39 280.71,457.68 281.38,456.04 282.05,454.46 282.71,452.95 283.38,451.51 284.05,450.13 284.72,448.83 285.38,447.60 286.05,446.41 286.72,445.25 287.38,444.13 288.05,443.05 288.72,441.99 289.39,440.97 290.05,439.98 290.72,439.02 291.39,438.09 292.05,437.19 292.72,436.32 293.39,435.49 294.06,434.68 294.72,433.90 295.39,433.14 296.06,432.42 296.73,431.72 297.39,431.05 298.06,430.39 298.73,429.74 299.39,429.11 300.06,428.49 300.73,427.89 301.40,427.31 302.06,426.74 302.73,426.19 303.40,425.66 304.06,425.15 304.73,424.66 305.40,424.19 306.07,423.74 306.73,423.31 307.40,422.91 308.07,422.52 308.73,422.16 309.40,421.81 310.07,421.48 310.74,421.15 311.40,420.83 312.07,420.53 312.74,420.23 313.41,419.94 314.07,419.66 314.74,419.40 315.41,419.14 316.07,418.89 316.74,418.66 317.41,418.43 318.08,418.22 318.74,418.02 319.41,417.83 320.08,417.64 320.74,417.47 321.41,417.31 322.08,417.15 322.75,417.00 323.41,416.86 324.08,416.72 324.75,416.59 325.41,416.46 326.08,416.34 326.75,416.22 327.42,416.10 328.08,415.99 328.75,415.87 329.42,415.76 330.09,415.65 330.75,415.54 331.42,415.43 332.09,415.32 332.75,415.21 333.42,415.10 334.09,414.99 334.76,414.88 335.42,414.78 336.09,414.67 336.76,414.56 337.42,414.46 338.09,414.35 338.76,414.25 339.43,414.15 340.09,414.05 340.76,413.95 341.43,413.85 342.09,413.75 342.76,413.65 343.43,413.56 344.10,413.47 344.76,413.37 345.43,413.28 346.10,413.20 346.77,413.11 347.43,413.02 348.10,412.94 348.77,412.86 349.43,412.78 350.10,412.70 350.77,412.63 351.44,412.55 352.10,412.48 352.77,412.41 353.44,412.34 354.10,412.27 354.77,412.21 355.44,412.14 356.11,412.07 356.77,412.01 357.44,411.94 358.11,411.88 358.77,411.82 359.44,411.75 360.11,411.69 360.78,411.63 361.44,411.57 362.11,411.51 362.78,411.45 363.45,411.39 364.11,411.34 364.78,411.28 365.45,411.22 366.11,411.17 366.78,411.11 367.45,411.05 368.12,411.00 368.78,410.95 369.45,410.89 370.12,410.84 370.78,410.79 371.45,410.74 372.12,410.68 372.79,410.63 373.45,410.58 374.12,410.53 374.79,410.48 375.45,410.43 376.12,410.39 376.79,410.34 377.46,410.29 378.12,410.24 378.79,410.19 379.46,410.15 380.13,410.10 380.79,410.06 381.46,410.01 382.13,409.96 382.79,409.92 383.46,409.87 384.13,409.83 384.80,409.79 385.46,409.74 386.13,409.70 386.80,409.65 387.46,409.61 388.13,409.57 388.80,409.52 389.47,409.48 390.13,409.44 390.80,409.40 391.47,409.36 392.13,409.32 392.80,409.28 393.47,409.24 394.14,409.20 394.80,409.16 395.47,409.12 396.14,409.08 396.81,409.04 397.47,409.00 398.14,408.97 398.81,408.93 399.47,408.89 400.14,408.86 400.81,408.82 401.48,408.78 402.14,408.75 402.81,408.71 403.48,408.68 404.14,408.64 404.81,408.61 405.48,408.57 406.15,408.54 406.81,408.50 407.48,408.47 408.15,408.44 408.81,408.40 409.48,408.37 410.15,408.34 410.82,408.30 411.48,408.27 412.15,408.24 412.82,408.20 413.49,408.17 414.15,408.14 414.82,408.11 415.49,408.07 416.15,408.04 416.82,408.01 417.49,407.98 418.16,407.94 418.82,407.91 419.49,407.88 420.16,407.85 420.82,407.81 421.49,407.78 422.16,407.75 422.83,407.71 423.49,407.68 424.16,407.65 424.83,407.62 425.49,407.58 426.16,407.55 426.83,407.52 427.50,407.48 428.16,407.45 428.83,407.41 429.50,407.38 430.17,407.35 430.83,407.31 431.50,407.28" fill="none" stroke="#7ab450" stroke-width="0.9" stroke-linejoin="round"/>
<polyline points="267.98,533.55 268.65,528.97 269.31,524.17 269.98,519.48 270.65,515.24 271.32,511.80 271.98,509.02 272.65,506.50 273.32,504.22 273.98,502.14 274.65,500.24 275.32,498.47 275.99,496.80 276.65,495.21 277.32,493.68 277.99,492.22 278.66,490.82 279.32,489.47 279.99,488.17 280.66,486.93 281.32,485.73 281.99,484.58 282.66,483.47 283.33,482.40 283.99,481.36 284.66,480.36 285.33,479.39 285.99,478.44 286.66,477.51 287.33,476.60 288.00,475.71 288.66,474.85 289.33,474.00 290.00,473.18 290.66,472.37 291.33,471.59 292.00,470.84 292.67,470.11 293.33,469.40 294.00,468.72 294.67,468.06 295.34,467.42 296.00,466.82 296.67,466.24 297.34,465.68 298.00,465.13 298.67,464.59 299.34,464.06 300.01,463.55 300.67,463.04 301.34,462.55 302.01,462.08 302.67,461.62 303.34,461.18 304.01,460.75 304.68,460.34 305.34,459.96 306.01,459.59 306.68,459.25 307.34,458.93 308.01,458.63 308.68,458.36 309.35,458.10 310.01,457.85 310.68,457.62 311.35,457.39 312.02,457.17 312.68,456.97 313.35,456.77 314.02,456.57 314.68,456.39 315.35,456.21 316.02,456.04 316.69,455.88 317.35,455.72 318.02,455.57 318.69,455.42 319.35,455.28 320.02,455.14 320.69,455.01 321.36,454.88 322.02,454.76 322.69,454.64 323.36,454.52 324.02,454.41 324.69,454.30 325.36,454.20 326.03,454.09 326.69,454.00 327.36,453.90 328.03,453.80 328.70,453.71 329.36,453.62 330.03,453.54 330.70,453.45 331.36,453.37 332.03,453.29 332.70,453.21 333.37,453.13 334.03,453.05 334.70,452.97 335.37,452.90 336.03,452.82 336.70,452.75 337.37,452.68 338.04,452.61 338.70,452.54 339.37,452.47 340.04,452.41 340.70,452.34 341.37,452.28 342.04,452.21 342.71,452.15 343.37,452.09 344.04,452.03 344.71,451.97 345.38,451.91 346.04,451.85 346.71,451.79 347.38,451.73 348.04,451.67 348.71,451.62 349.38,451.56 350.05,451.50 350.71,451.45 351.38,451.40 352.05,451.34 352.71,451.29 353.38,451.23 354.05,451.18 354.72,451.13 355.38,451.07 356.05,451.02 356.72,450.97 357.38,450.92 358.05,450.87 358.72,450.81 359.39,450.76 360.05,450.71 360.72,450.66 361.39,450.61 362.06,450.56 362.72,450.51 363.39,450.46 364.06,450.42 364.72,450.37 365.39,450.32 366.06,450.27 366.73,450.22 367.39,450.18 368.06,450.13 368.73,450.09 369.39,450.04 370.06,449.99 370.73,449.95 371.40,449.90 372.06,449.86 372.73,449.82 373.40,449.77 374.06,449.73 374.73,449.69 375.40,449.64 376.07,449.60 376.73,449.56 377.40,449.52 378.07,449.48 378.74,449.44 379.40,449.40 380.07,449.36 380.74,449.32 381.40,449.28 382.07,449.24 382.74,449.21 383.41,449.17 384.07,449.13 384.74,449.10 385.41,449.06 386.07,449.02 386.74,448.99 387.41,448.96 388.08,448.92 388.74,448.89 389.41,448.86 390.08,448.82 390.74,448.79 391.41,448.76 392.08,448.73 392.75,448.70 393.41,448.66 394.08,448.63 394.75,448.60 395.42,448.57 396.08,448.54 396.75,448.52 397.42,448.49 398.08,448.46 398.75,448.43 399.42,448.40 400.09,448.37 400.75,448.35 401.42,448.32 402.09,448.29 402.75,448.26 403.42,448.24 404.09,448.21 404.76,448.18 405.42,448.16 406.09,448.13 406.76,448.11 407.42,448.08 408.09,448.05 408.76,448.03 409.43,448.00 410.09,447.98 410.76,447.95 411.43,447.93 412.10,447.90 412.76,447.88 413.43,447.85 414.10,447.83 414.76,447.80 415.43,447.78 416.10,447.75 416.77,447.73 417.43,447.71 418.10,447.68 418.77,447.66 419.43,447.63 420.10,447.61 420.77,447.58 421.44,447.56 422.10,447.53 422.77,447.51 423.44,447.48 424.10,447.46 424.77,447.43 425.44,447.41 426.11,447.38 426.77,447.36 427.44,447.33 428.11,447.30 428.78,447.28 429.44,447.25 430.11,447.23 430.78,447.20 431.44,447.17" fill="none" stroke="#e2a860" stroke-width="0.9" stroke-linejoin="round"/>
<polyline points="267.42,532.05 268.09,528.44 268.76,524.67 269.43,520.91 270.09,517.33 270.76,514.10 271.43,511.39 272.09,509.02 272.76,506.83 273.43,504.82 274.10,502.95 274.76,501.21 275.43,499.58 276.10,498.05 276.76,496.58 277.43,495.17 278.10,493.82 278.77,492.51 279.43,491.25 280.10,490.04 280.77,488.87 281.44,487.74 282.10,486.65 282.77,485.59 283.44,484.56 284.10,483.56 284.77,482.59 285.44,481.63 286.11,480.70 286.77,479.78 287.44,478.87 288.11,477.98 288.77,477.10 289.44,476.25 290.11,475.41 290.78,474.60 291.44,473.80 292.11,473.03 292.78,472.29 293.44,471.57 294.11,470.87 294.78,470.21 295.45,469.57 296.11,468.97 296.78,468.39 297.45,467.84 298.12,467.29 298.78,466.75 299.45,466.21 300.12,465.69 300.78,465.18 301.45,464.68 302.12,464.20 302.79,463.73 303.45,463.29 304.12,462.87 304.79,462.48 305.45,462.11 306.12,461.77 306.79,461.46 307.46,461.18 308.12,460.94 308.79,460.73 309.46,460.55 310.12,460.37 310.79,460.20 311.46,460.04 312.13,459.89 312.79,459.75 313.46,459.62 314.13,459.49 314.80,459.37 315.46,459.25 316.13,459.14 316.80,459.04 317.46,458.94 318.13,458.84 318.80,458.75 319.47,458.66 320.13,458.56 320.80,458.48 321.47,458.39 322.13,458.31 322.80,458.23 323.47,458.15 324.14,458.07 324.80,458.00 325.47,457.93 326.14,457.86 326.80,457.80 327.47,457.73 328.14,457.67 328.81,457.61 329.47,457.55 330.14,457.49 330.81,457.44 331.48,457.38 332.14,457.33 332.81,457.28 333.48,457.23 334.14,457.19 334.81,457.14 335.48,457.09 336.15,457.05 336.81,457.01 337.48,456.97 338.15,456.92 338.81,456.88 339.48,456.84 340.15,456.81 340.82,456.77 341.48,456.73 342.15,456.69 342.82,456.66 343.48,456.62 344.15,456.58 344.82,456.55 345.49,456.51 346.15,456.47 346.82,456.44 347.49,456.40 348.16,456.37 348.82,456.33 349.49,456.29 350.16,456.25 350.82,456.22 351.49,456.18 352.16,456.14 352.83,456.10 353.49,456.06 354.16,456.02 354.83,455.98 355.49,455.94 356.16,455.90 356.83,455.85 357.50,455.81 358.16,455.77 358.83,455.73 359.50,455.69 360.16,455.65 360.83,455.61 361.50,455.57 362.17,455.53 362.83,455.48 363.50,455.44 364.17,455.40 364.84,455.36 365.50,455.32 366.17,455.28 366.84,455.24 367.50,455.20 368.17,455.16 368.84,455.11 369.51,455.07 370.17,455.03 370.84,454.99 371.51,454.95 372.17,454.91 372.84,454.87 373.51,454.83 374.18,454.79 374.84,454.75 375.51,454.71 376.18,454.67 376.84,454.63 377.51,454.60 378.18,454.56 378.85,454.52 379.51,454.48 380.18,454.44 380.85,454.41 381.52,454.37 382.18,454.33 382.85,454.30 383.52,454.26 384.18,454.22 384.85,454.19 385.52,454.15 386.19,454.12 386.85,454.08 387.52,454.05 388.19,454.02 388.85,453.98 389.52,453.95 390.19,453.92 390.86,453.88 391.52,453.85 392.19,453.82 392.86,453.79 393.52,453.76 394.19,453.72 394.86,453.69 395.53,453.66 396.19,453.63 396.86,453.60 397.53,453.57 398.20,453.54 398.86,453.51 399.53,453.48 400.20,453.45 400.86,453.42 401.53,453.39 402.20,453.36 402.87,453.33 403.53,453.30 404.20,453.27 404.87,453.25 405.53,453.22 406.20,453.19 406.87,453.16 407.54,453.13 408.20,453.10 408.87,453.08 409.54,453.05 410.20,453.02 410.87,452.99 411.54,452.96 412.21,452.93 412.87,452.91 413.54,452.88 414.21,452.85 414.88,452.82 415.54,452.80 416.21,452.77 416.88,452.74 417.54,452.71 418.21,452.68 418.88,452.66 419.55,452.63 420.21,452.60 420.88,452.57 421.55,452.55 422.21,452.52 422.88,452.49 423.55,452.46 424.22,452.43 424.88,452.41 425.55,452.38 426.22,452.35 426.88,452.32 427.55,452.29 428.22,452.26 428.89,452.24 429.55,452.21 430.22,452.18 430.89,452.15 431.56,452.12" fill="none" stroke="#c47ac6" stroke-width="0.9" stroke-linejoin="round"/>
<polyline points="266.70,529.80 267.37,527.58 268.04,525.32 268.70,523.03 269.37,520.79 270.04,518.62 270.70,516.54 271.37,514.66 272.04,512.88 272.71,511.19 273.37,509.58 274.04,508.03 274.71,506.56 275.37,505.11 276.04,503.76 276.71,502.42 277.38,501.12 278.04,499.83 278.71,498.55 279.38,497.27 280.05,496.06 280.71,494.91 281.38,493.76 282.05,492.57 282.71,491.52 283.38,490.43 284.05,489.41 284.72,488.38 285.38,487.43 286.05,486.44 286.72,485.50 287.38,484.54 288.05,483.56 288.72,482.66 289.39,481.82 290.05,481.00 290.72,480.06 291.39,479.23 292.05,478.47 292.72,477.61 293.39,476.86 294.06,476.11 294.72,475.39 295.39,474.81 296.06,474.24 296.73,473.62 297.39,473.17 298.06,472.61 298.73,472.20 299.39,471.68 300.06,471.18 300.73,470.66 301.40,470.20 302.06,469.83 302.73,469.52 303.40,469.21 304.06,468.82 304.73,468.45 305.40,468.19 306.07,467.75 306.73,467.43 307.40,467.09 308.07,466.88 308.73,466.66 309.40,466.49 310.07,466.21 310.74,465.96 311.40,465.67 312.07,465.41 312.74,465.06 313.41,464.73 314.07,464.61 314.74,464.41 315.41,464.28 316.07,464.01 316.74,463.70 317.41,463.63 318.08,463.41 318.74,463.33 319.41,463.31 320.08,463.10 320.74,463.03 321.41,463.00 322.08,462.89 322.75,462.85 323.41,462.75 324.08,462.66 324.75,462.59 325.41,462.48 326.08,462.46 326.75,462.47 327.42,462.47 328.08,462.45 328.75,462.31 329.42,462.24 330.09,462.06 330.75,461.99 331.42,461.87 332.09,461.69 332.75,461.76 333.42,461.80 334.09,461.77 334.76,461.66 335.42,461.51 336.09,461.34 336.76,461.29 337.42,461.07 338.09,461.12 338.76,460.93 339.43,460.92 340.09,460.73 340.76,460.76 341.43,460.54 342.09,460.41 342.76,460.23 343.43,460.19 344.10,460.23 344.76,460.04 345.43,460.02 346.10,460.07 346.77,459.96 347.43,459.90 348.10,459.84 348.77,459.87 349.43,459.88 350.10,459.77 350.77,459.72 351.44,459.76 352.10,459.71 352.77,459.60 353.44,459.52 354.10,459.52 354.77,459.53 355.44,459.54 356.11,459.58 356.77,459.60 357.44,459.56 358.11,459.60 358.77,459.48 359.44,459.40 360.11,459.36 360.78,459.47 361.44,459.46 362.11,459.43 362.78,459.49 363.45,459.32 364.11,459.24 364.78,459.25 365.45,459.20 366.11,459.29 366.78,459.34 367.45,459.30 368.12,459.21 368.78,459.18 369.45,459.30 370.12,459.24 370.78,459.12 371.45,459.08 372.12,459.00 372.79,458.93 373.45,459.06 374.12,459.13 374.79,459.12 375.45,459.01 376.12,459.07 376.79,458.98 377.46,458.93 378.12,458.97 378.79,458.98 379.46,458.90 380.13,458.88 380.79,458.98 381.46,458.92 382.13,459.03 382.79,459.07 383.46,458.95 384.13,458.89 384.80,458.97 385.46,459.03 386.13,458.99 386.80,458.91 387.46,458.89 388.13,458.81 388.80,458.80 389.47,458.77 390.13,458.80 390.80,458.87 391.47,458.91 392.13,458.92 392.80,458.91 393.47,458.83 394.14,458.91 394.80,459.01 395.47,458.91 396.14,458.96 396.81,458.95 397.47,459.02 398.14,458.89 398.81,458.93 399.47,458.96 400.14,458.85 400.81,458.84 401.48,458.89 402.14,458.78 402.81,458.81 403.48,458.84 404.14,458.72 404.81,458.67 405.48,458.65 406.15,458.75 406.81,458.68 407.48,458.68 408.15,458.63 408.81,458.70 409.48,458.64 410.15,458.60 410.82,458.67 411.48,458.65 412.15,458.61 412.82,458.52 413.49,458.48 414.15,458.48 414.82,458.63 415.49,458.62 416.15,458.60 416.82,458.72 417.49,458.72 418.16,458.61 418.82,458.53 419.49,458.47 420.16,458.62 420.82,458.60 421.49,458.52 422.16,458.52 422.83,458.59 423.49,458.71 424.16,458.58 424.83,458.50 425.49,458.49 426.16,458.56 426.83,458.49 427.50,458.44 428.16,458.42 428.83,458.44 429.50,458.52 430.17,458.58 430.83,458.60 431.50,458.63" fill="none" stroke="#2f87ba" stroke-width="0.9" stroke-linejoin="round"/>
<polyline points="266.70,529.80 267.37,526.72 268.04,523.58 268.70,520.42 269.37,517.30 270.04,514.25 270.70,511.33 271.37,508.58 272.04,505.89 272.71,503.22 273.37,500.62 274.04,498.14 274.71,495.84 275.37,493.78 276.04,492.01 276.71,490.44 277.38,488.96 278.04,487.57 278.71,486.26 279.38,485.02 280.05,483.84 280.71,482.71 281.38,481.63 282.05,480.59 282.71,479.58 283.38,478.60 284.05,477.63 284.72,476.67 285.38,475.71 286.05,474.75 286.72,473.80 287.38,472.86 288.05,471.93 288.72,471.01 289.39,470.12 290.05,469.23 290.72,468.38 291.39,467.54 292.05,466.73 292.72,465.95 293.39,465.20 294.06,464.48 294.72,463.80 295.39,463.15 296.06,462.55 296.73,461.98 297.39,461.46 298.06,460.95 298.73,460.47 299.39,460.00 300.06,459.55 300.73,459.11 301.40,458.69 302.06,458.29 302.73,457.89 303.40,457.52 304.06,457.15 304.73,456.80 305.40,456.45 306.07,456.12 306.73,455.80 307.40,455.48 308.07,455.18 308.73,454.88 309.40,454.58 310.07,454.28 310.74,453.99 311.40,453.71 312.07,453.42 312.74,453.15 313.41,452.88 314.07,452.62 314.74,452.37 315.41,452.13 316.07,451.90 316.74,451.68 317.41,451.47 318.08,451.28 318.74,451.10 319.41,450.93 320.08,450.78 320.74,450.65 321.41,450.52 322.08,450.40 322.75,450.29 323.41,450.18 324.08,450.07 324.75,449.97 325.41,449.88 326.08,449.78 326.75,449.70 327.42,449.61 328.08,449.53 328.75,449.45 329.42,449.37 330.09,449.30 330.75,449.23 331.42,449.15 332.09,449.08 332.75,449.01 333.42,448.94 334.09,448.88 334.76,448.81 335.42,448.75 336.09,448.68 336.76,448.62 337.42,448.56 338.09,448.50 338.76,448.44 339.43,448.38 340.09,448.33 340.76,448.27 341.43,448.22 342.09,448.16 342.76,448.11 343.43,448.06 344.10,448.01 344.76,447.96 345.43,447.91 346.10,447.86 346.77,447.81 347.43,447.76 348.10,447.71 348.77,447.67 349.43,447.62 350.10,447.57 350.77,447.53 351.44,447.48 352.10,447.44 352.77,447.39 353.44,447.35 354.10,447.31 354.77,447.26 355.44,447.22 356.11,447.17 356.77,447.13 357.44,447.08 358.11,447.04 358.77,447.00 359.44,446.95 360.11,446.91 360.78,446.87 361.44,446.83 362.11,446.78 362.78,446.74 363.45,446.70 364.11,446.66 364.78,446.62 365.45,446.58 366.11,446.54 366.78,446.50 367.45,446.46 368.12,446.42 368.78,446.38 369.45,446.34 370.12,446.30 370.78,446.27 371.45,446.23 372.12,446.19 372.79,446.16 373.45,446.12 374.12,446.08 374.79,446.05 375.45,446.02 376.12,445.98 376.79,445.95 377.46,445.92 378.12,445.88 378.79,445.85 379.46,445.82 380.13,445.79 380.79,445.76 381.46,445.73 382.13,445.70 382.79,445.68 383.46,445.65 384.13,445.62 384.80,445.60 385.46,445.57 386.13,445.55 386.80,445.52 387.46,445.50 388.13,445.48 388.80,445.46 389.47,445.44 390.13,445.42 390.80,445.39 391.47,445.37 392.13,445.35 392.80,445.33 393.47,445.32 394.14,445.30 394.80,445.28 395.47,445.26 396.14,445.24 396.81,445.22 397.47,445.21 398.14,445.19 398.81,445.17 399.47,445.15 400.14,445.14 400.81,445.12 401.48,445.11 402.14,445.09 402.81,445.07 403.48,445.06 404.14,445.04 404.81,445.03 405.48,445.01 406.15,445.00 406.81,444.98 407.48,444.97 408.15,444.95 408.81,444.94 409.48,444.93 410.15,444.91 410.82,444.90 411.48,444.88 412.15,444.87 412.82,444.86 413.49,444.84 414.15,444.83 414.82,444.82 415.49,444.80 416.15,444.79 416.82,444.77 417.49,444.76 418.16,444.75 418.82,444.73 419.49,444.72 420.16,444.71 420.82,444.69 421.49,444.68 422.16,444.67 422.83,444.65 423.49,444.64 424.16,444.62 424.83,444.61 425.49,444.60 426.16,444.58 426.83,444.57 427.50,444.55 428.16,444.54 428.83,444.52 429.50,444.51 430.17,444.49 430.83,444.48 431.50,444.46" fill="none" stroke="#e46a7e" stroke-width="0.9" stroke-linejoin="round"/>
</g>
<rect x="262.60" y="349.80" width="172.00" height="183.70" fill="none" stroke="#000" stroke-width="1.7"/>
<line x1="258.60" y1="529.80" x2="262.60" y2="529.80" stroke="#000" stroke-width="1.3" />
<text x="256.20" y="532.90" font-size="8.7" text-anchor="end" fill="#151515" >20</text>
<line x1="258.60" y1="499.80" x2="262.60" y2="499.80" stroke="#000" stroke-width="1.3" />
<text x="256.20" y="502.90" font-size="8.7" text-anchor="end" fill="#151515" >40</text>
<line x1="258.60" y1="469.80" x2="262.60" y2="469.80" stroke="#000" stroke-width="1.3" />
<text x="256.20" y="472.90" font-size="8.7" text-anchor="end" fill="#151515" >60</text>
<line x1="258.60" y1="439.80" x2="262.60" y2="439.80" stroke="#000" stroke-width="1.3" />
<text x="256.20" y="442.90" font-size="8.7" text-anchor="end" fill="#151515" >80</text>
<line x1="258.60" y1="409.80" x2="262.60" y2="409.80" stroke="#000" stroke-width="1.3" />
<text x="256.20" y="412.90" font-size="8.7" text-anchor="end" fill="#151515" >100</text>
<line x1="258.60" y1="379.80" x2="262.60" y2="379.80" stroke="#000" stroke-width="1.3" />
<text x="256.20" y="382.90" font-size="8.7" text-anchor="end" fill="#151515" >120</text>
<line x1="258.60" y1="349.80" x2="262.60" y2="349.80" stroke="#000" stroke-width="1.3" />
<text x="256.20" y="352.90" font-size="8.7" text-anchor="end" fill="#151515" >140</text>
<line x1="260.20" y1="514.80" x2="262.60" y2="514.80" stroke="#000" stroke-width="1.3" />
<line x1="260.20" y1="484.80" x2="262.60" y2="484.80" stroke="#000" stroke-width="1.3" />
<line x1="260.20" y1="454.80" x2="262.60" y2="454.80" stroke="#000" stroke-width="1.3" />
<line x1="260.20" y1="424.80" x2="262.60" y2="424.80" stroke="#000" stroke-width="1.3" />
<line x1="260.20" y1="394.80" x2="262.60" y2="394.80" stroke="#000" stroke-width="1.3" />
<line x1="260.20" y1="364.80" x2="262.60" y2="364.80" stroke="#000" stroke-width="1.3" />
<line x1="265.20" y1="533.50" x2="265.20" y2="537.50" stroke="#000" stroke-width="1.3" />
<text x="265.20" y="547.50" font-size="8.7" text-anchor="middle" fill="#151515" >0</text>
<line x1="293.00" y1="533.50" x2="293.00" y2="537.50" stroke="#000" stroke-width="1.3" />
<text x="293.00" y="547.50" font-size="8.7" text-anchor="middle" fill="#151515" >5</text>
<line x1="320.80" y1="533.50" x2="320.80" y2="537.50" stroke="#000" stroke-width="1.3" />
<text x="320.80" y="547.50" font-size="8.7" text-anchor="middle" fill="#151515" >10</text>
<line x1="348.60" y1="533.50" x2="348.60" y2="537.50" stroke="#000" stroke-width="1.3" />
<text x="348.60" y="547.50" font-size="8.7" text-anchor="middle" fill="#151515" >15</text>
<line x1="376.40" y1="533.50" x2="376.40" y2="537.50" stroke="#000" stroke-width="1.3" />
<text x="376.40" y="547.50" font-size="8.7" text-anchor="middle" fill="#151515" >20</text>
<line x1="404.20" y1="533.50" x2="404.20" y2="537.50" stroke="#000" stroke-width="1.3" />
<text x="404.20" y="547.50" font-size="8.7" text-anchor="middle" fill="#151515" >25</text>
<line x1="432.00" y1="533.50" x2="432.00" y2="537.50" stroke="#000" stroke-width="1.3" />
<text x="432.00" y="547.50" font-size="8.7" text-anchor="middle" fill="#151515" >30</text>
<line x1="279.10" y1="533.50" x2="279.10" y2="535.90" stroke="#000" stroke-width="1.3" />
<line x1="306.90" y1="533.50" x2="306.90" y2="535.90" stroke="#000" stroke-width="1.3" />
<line x1="334.70" y1="533.50" x2="334.70" y2="535.90" stroke="#000" stroke-width="1.3" />
<line x1="362.50" y1="533.50" x2="362.50" y2="535.90" stroke="#000" stroke-width="1.3" />
<line x1="390.30" y1="533.50" x2="390.30" y2="535.90" stroke="#000" stroke-width="1.3" />
<line x1="418.10" y1="533.50" x2="418.10" y2="535.90" stroke="#000" stroke-width="1.3" />
<text transform="translate(237.20,435.20) rotate(-90)" font-size="10.8" text-anchor="middle" fill="#151515">Average temperature (<tspan dy="-3" font-size="7">o</tspan><tspan dy="3">C)</tspan></text>
<text x="348.50" y="563.70" font-size="10.8" text-anchor="middle" fill="#151515" >Time (h)</text>
<line x1="324.20" y1="469.10" x2="340.30" y2="469.10" stroke="#a9d6e6" stroke-width="1.0" />
<text x="342.50" y="471.70" font-size="7.2" text-anchor="start" fill="#151515" >LM</text>
<line x1="324.20" y1="478.70" x2="340.30" y2="478.70" stroke="#222222" stroke-width="1.0" />
<text x="342.50" y="481.30" font-size="7.2" text-anchor="start" fill="#151515" >LM/AlN composite</text>
<line x1="324.20" y1="488.30" x2="340.30" y2="488.30" stroke="#7ab450" stroke-width="1.0" />
<text x="342.50" y="490.90" font-size="7.2" text-anchor="start" fill="#151515" >Colloidal LM-30 μm, 30 min</text>
<line x1="324.20" y1="497.90" x2="340.30" y2="497.90" stroke="#e2a860" stroke-width="1.0" />
<text x="342.50" y="500.50" font-size="7.2" text-anchor="start" fill="#151515" >Colloidal LM-1 μm, 2 min</text>
<line x1="324.20" y1="507.50" x2="340.30" y2="507.50" stroke="#c47ac6" stroke-width="1.0" />
<text x="342.50" y="510.10" font-size="7.2" text-anchor="start" fill="#151515" >Colloidal LM-5 μm, 2 min</text>
<line x1="324.20" y1="517.10" x2="340.30" y2="517.10" stroke="#2f87ba" stroke-width="1.0" />
<text x="342.50" y="519.70" font-size="7.2" text-anchor="start" fill="#151515" >Colloidal LM-30 μm, 2 min</text>
<line x1="324.20" y1="526.70" x2="340.30" y2="526.70" stroke="#e46a7e" stroke-width="1.0" />
<text x="342.50" y="529.30" font-size="7.2" text-anchor="start" fill="#151515" >Colloidal LM-80 μm, 2 min</text>
</g>
<polyline points="500.40,505.90 551.00,462.40 601.61,413.40 652.21,387.60" fill="none" stroke="#7a7a7a" stroke-width="0.8" stroke-linejoin="round"/>
<polyline points="500.40,525.00 551.00,513.50 601.61,495.60 652.21,481.30" fill="none" stroke="#4aa3ba" stroke-width="0.8" stroke-linejoin="round"/>
<line x1="497.60" y1="500.70" x2="503.20" y2="500.70" stroke="#666" stroke-width="1.3" />
<line x1="497.60" y1="512.00" x2="503.20" y2="512.00" stroke="#666" stroke-width="1.3" />
<line x1="548.21" y1="454.80" x2="553.80" y2="454.80" stroke="#666" stroke-width="1.3" />
<line x1="548.21" y1="471.60" x2="553.80" y2="471.60" stroke="#666" stroke-width="1.3" />
<line x1="598.81" y1="401.60" x2="604.41" y2="401.60" stroke="#666" stroke-width="1.3" />
<line x1="598.81" y1="427.90" x2="604.41" y2="427.90" stroke="#666" stroke-width="1.3" />
<line x1="649.41" y1="373.00" x2="655.01" y2="373.00" stroke="#666" stroke-width="1.3" />
<line x1="649.41" y1="405.00" x2="655.01" y2="405.00" stroke="#666" stroke-width="1.3" />
<line x1="497.60" y1="521.70" x2="503.20" y2="521.70" stroke="#3e9ab4" stroke-width="1.3" />
<line x1="497.60" y1="528.30" x2="503.20" y2="528.30" stroke="#3e9ab4" stroke-width="1.3" />
<line x1="548.21" y1="510.40" x2="553.80" y2="510.40" stroke="#3e9ab4" stroke-width="1.3" />
<line x1="548.21" y1="516.80" x2="553.80" y2="516.80" stroke="#3e9ab4" stroke-width="1.3" />
<line x1="598.81" y1="492.30" x2="604.41" y2="492.30" stroke="#3e9ab4" stroke-width="1.3" />
<line x1="598.81" y1="500.70" x2="604.41" y2="500.70" stroke="#3e9ab4" stroke-width="1.3" />
<line x1="649.41" y1="476.00" x2="655.01" y2="476.00" stroke="#3e9ab4" stroke-width="1.3" />
<line x1="649.41" y1="487.20" x2="655.01" y2="487.20" stroke="#3e9ab4" stroke-width="1.3" />
<rect x="489.90" y="350.40" width="172.60" height="183.50" fill="none" stroke="#000" stroke-width="1.7"/>
<line x1="485.90" y1="520.00" x2="489.90" y2="520.00" stroke="#000" stroke-width="1.3" />
<text x="483.50" y="523.10" font-size="8.7" text-anchor="end" fill="#151515" >40</text>
<line x1="485.90" y1="491.73" x2="489.90" y2="491.73" stroke="#000" stroke-width="1.3" />
<text x="483.50" y="494.83" font-size="8.7" text-anchor="end" fill="#151515" >60</text>
<line x1="485.90" y1="463.47" x2="489.90" y2="463.47" stroke="#000" stroke-width="1.3" />
<text x="483.50" y="466.57" font-size="8.7" text-anchor="end" fill="#151515" >80</text>
<line x1="485.90" y1="435.20" x2="489.90" y2="435.20" stroke="#000" stroke-width="1.3" />
<text x="483.50" y="438.30" font-size="8.7" text-anchor="end" fill="#151515" >100</text>
<line x1="485.90" y1="406.94" x2="489.90" y2="406.94" stroke="#000" stroke-width="1.3" />
<text x="483.50" y="410.04" font-size="8.7" text-anchor="end" fill="#151515" >120</text>
<line x1="485.90" y1="378.67" x2="489.90" y2="378.67" stroke="#000" stroke-width="1.3" />
<text x="483.50" y="381.77" font-size="8.7" text-anchor="end" fill="#151515" >140</text>
<line x1="485.90" y1="350.40" x2="489.90" y2="350.40" stroke="#000" stroke-width="1.3" />
<text x="483.50" y="353.50" font-size="8.7" text-anchor="end" fill="#151515" >160</text>
<line x1="487.50" y1="505.87" x2="489.90" y2="505.87" stroke="#000" stroke-width="1.3" />
<line x1="487.50" y1="477.60" x2="489.90" y2="477.60" stroke="#000" stroke-width="1.3" />
<line x1="487.50" y1="449.33" x2="489.90" y2="449.33" stroke="#000" stroke-width="1.3" />
<line x1="487.50" y1="421.07" x2="489.90" y2="421.07" stroke="#000" stroke-width="1.3" />
<line x1="487.50" y1="392.80" x2="489.90" y2="392.80" stroke="#000" stroke-width="1.3" />
<line x1="487.50" y1="364.54" x2="489.90" y2="364.54" stroke="#000" stroke-width="1.3" />
<line x1="500.40" y1="533.90" x2="500.40" y2="537.90" stroke="#000" stroke-width="1.3" />
<text x="500.40" y="547.90" font-size="8.7" text-anchor="middle" fill="#151515" >50</text>
<line x1="551.00" y1="533.90" x2="551.00" y2="537.90" stroke="#000" stroke-width="1.3" />
<text x="551.00" y="547.90" font-size="8.7" text-anchor="middle" fill="#151515" >100</text>
<line x1="601.61" y1="533.90" x2="601.61" y2="537.90" stroke="#000" stroke-width="1.3" />
<text x="601.61" y="547.90" font-size="8.7" text-anchor="middle" fill="#151515" >150</text>
<line x1="652.21" y1="533.90" x2="652.21" y2="537.90" stroke="#000" stroke-width="1.3" />
<text x="652.21" y="547.90" font-size="8.7" text-anchor="middle" fill="#151515" >200</text>
<line x1="510.40" y1="369.70" x2="515.50" y2="369.70" stroke="#666" stroke-width="1.3" />
<line x1="510.40" y1="381.20" x2="515.50" y2="381.20" stroke="#3e9ab4" stroke-width="1.3" />
<text x="522.70" y="372.80" font-size="8.9" text-anchor="start" fill="#151515" >Silicone grease</text>
<text x="522.70" y="384.30" font-size="8.9" text-anchor="start" fill="#151515" >Colloidal LM</text>
<text transform="translate(464.60,442.60) rotate(-90)" font-size="10.8" text-anchor="middle" fill="#151515">Node temperature (<tspan dy="-3" font-size="7">o</tspan><tspan dy="3">C)</tspan></text>
<text x="576.30" y="563.70" font-size="10.8" text-anchor="middle" fill="#151515" >Heat flux of the source (W/cm<tspan dy="-3.5" font-size="7">2</tspan><tspan dy="3.5">)</tspan></text>
<polyline points="43.70,611.00 94.70,608.70 145.70,612.40 196.70,609.70" fill="none" stroke="#999" stroke-width="0.7" stroke-linejoin="round"/>
<polyline points="43.70,672.80 94.70,699.40 145.70,698.30 196.70,695.70" fill="none" stroke="#999" stroke-width="0.7" stroke-linejoin="round"/>
<polygon points="41.10,613.00 46.30,613.00 43.70,608.40" fill="#4a9cc4"/>
<polygon points="92.10,610.70 97.30,610.70 94.70,606.10" fill="#4a9cc4"/>
<polygon points="143.10,614.40 148.30,614.40 145.70,609.80" fill="#4a9cc4"/>
<polygon points="194.10,611.70 199.30,611.70 196.70,607.10" fill="#4a9cc4"/>
<circle cx="43.70" cy="672.80" r="2.5" fill="#8cc462"/>
<circle cx="94.70" cy="699.40" r="2.5" fill="#8cc462"/>
<circle cx="145.70" cy="698.30" r="2.5" fill="#8cc462"/>
<circle cx="196.70" cy="695.70" r="2.5" fill="#8cc462"/>
<rect x="41.70" y="730.1" width="4" height="4" fill="#7d7d7d"/>
<rect x="33.90" y="575.10" width="171.70" height="183.50" fill="none" stroke="#000" stroke-width="1.7"/>
<polygon points="30.30,716.50 37.50,714.50 37.50,718.20 30.30,720.20" fill="#fff"/>
<line x1="30.30" y1="716.30" x2="37.50" y2="714.30" stroke="#000" stroke-width="1.5" />
<line x1="30.30" y1="720.10" x2="37.50" y2="718.10" stroke="#000" stroke-width="1.5" />
<polygon points="202.00,716.50 209.20,714.50 209.20,718.20 202.00,720.20" fill="#fff"/>
<line x1="202.00" y1="716.30" x2="209.20" y2="714.30" stroke="#000" stroke-width="1.5" />
<line x1="202.00" y1="720.10" x2="209.20" y2="718.10" stroke="#000" stroke-width="1.5" />
<line x1="29.90" y1="715.20" x2="33.90" y2="715.20" stroke="#000" stroke-width="1.3" />
<text x="27.50" y="718.30" font-size="8.7" text-anchor="end" fill="#151515" >60</text>
<line x1="29.90" y1="675.20" x2="33.90" y2="675.20" stroke="#000" stroke-width="1.3" />
<text x="27.50" y="678.30" font-size="8.7" text-anchor="end" fill="#151515" >70</text>
<line x1="29.90" y1="635.20" x2="33.90" y2="635.20" stroke="#000" stroke-width="1.3" />
<text x="27.50" y="638.30" font-size="8.7" text-anchor="end" fill="#151515" >80</text>
<line x1="29.90" y1="595.20" x2="33.90" y2="595.20" stroke="#000" stroke-width="1.3" />
<text x="27.50" y="598.30" font-size="8.7" text-anchor="end" fill="#151515" >90</text>
<line x1="31.50" y1="695.20" x2="33.90" y2="695.20" stroke="#000" stroke-width="1.3" />
<line x1="31.50" y1="655.20" x2="33.90" y2="655.20" stroke="#000" stroke-width="1.3" />
<line x1="31.50" y1="615.20" x2="33.90" y2="615.20" stroke="#000" stroke-width="1.3" />
<line x1="29.90" y1="738.50" x2="33.90" y2="738.50" stroke="#000" stroke-width="1.3" />
<text x="27.50" y="741.60" font-size="8.7" text-anchor="end" fill="#151515" >20</text>
<line x1="43.70" y1="758.60" x2="43.70" y2="762.60" stroke="#000" stroke-width="1.3" />
<text x="43.70" y="772.60" font-size="8.7" text-anchor="middle" fill="#151515" >50</text>
<line x1="94.70" y1="758.60" x2="94.70" y2="762.60" stroke="#000" stroke-width="1.3" />
<text x="94.70" y="772.60" font-size="8.7" text-anchor="middle" fill="#151515" >100</text>
<line x1="145.70" y1="758.60" x2="145.70" y2="762.60" stroke="#000" stroke-width="1.3" />
<text x="145.70" y="772.60" font-size="8.7" text-anchor="middle" fill="#151515" >150</text>
<line x1="196.70" y1="758.60" x2="196.70" y2="762.60" stroke="#000" stroke-width="1.3" />
<text x="196.70" y="772.60" font-size="8.7" text-anchor="middle" fill="#151515" >200</text>
<line x1="69.20" y1="758.60" x2="69.20" y2="761.00" stroke="#000" stroke-width="1.3" />
<line x1="120.20" y1="758.60" x2="120.20" y2="761.00" stroke="#000" stroke-width="1.3" />
<line x1="171.20" y1="758.60" x2="171.20" y2="761.00" stroke="#000" stroke-width="1.3" />
<line x1="116.00" y1="724.40" x2="130.50" y2="724.40" stroke="#aaa" stroke-width="0.7" />
<rect x="122.00" y="722.60" width="3.6" height="3.6" fill="#7d7d7d"/>
<text x="134.00" y="727.50" font-size="8.9" text-anchor="start" fill="#151515" >Air</text>
<line x1="116.00" y1="735.35" x2="130.50" y2="735.35" stroke="#aaa" stroke-width="0.7" />
<circle cx="123.80" cy="735.35" r="2.3" fill="#8cc462"/>
<text x="134.00" y="738.45" font-size="8.9" text-anchor="start" fill="#151515" >Silicone grease</text>
<line x1="116.00" y1="746.30" x2="130.50" y2="746.30" stroke="#aaa" stroke-width="0.7" />
<polygon points="121.40,748.10 126.20,748.10 123.80,743.90" fill="#4a9cc4"/>
<text x="134.00" y="749.40" font-size="8.9" text-anchor="start" fill="#151515" >Colloidal LM</text>
<text transform="translate(10.60,665.00) rotate(-90)" font-size="10.8" text-anchor="middle" fill="#151515"><tspan font-style="italic">φ</tspan> (%)</text>
<text x="120.00" y="788.80" font-size="10.8" text-anchor="middle" fill="#151515" >Heat flux of the source (W/cm<tspan dy="-3.5" font-size="7">2</tspan><tspan dy="3.5">)</tspan></text>
<rect x="262.20" y="586.40" width="154.28" height="3.00" fill="#fbf4f4" stroke="#5a4a4a" stroke-width="0.8"/>
<text x="357.60" y="597.50" font-size="7.45" text-anchor="start" fill="#151515" font-style="italic">Colloidal LM-80 μm</text>
<rect x="262.20" y="602.60" width="158.23" height="3.70" fill="#ebebeb" stroke="#555" stroke-width="0.8"/>
<text x="357.60" y="614.00" font-size="7.45" text-anchor="start" fill="#151515" font-style="italic">Colloidal LM-30 μm</text>
<rect x="262.20" y="619.60" width="157.38" height="3.70" fill="#ebebeb" stroke="#555" stroke-width="0.8"/>
<text x="357.60" y="631.50" font-size="7.45" text-anchor="start" fill="#151515" font-style="italic">Colloidal LM-5 μm</text>
<rect x="262.20" y="636.30" width="155.66" height="3.30" fill="#fbf4f4" stroke="#5a4a4a" stroke-width="0.8"/>
<text x="357.60" y="648.50" font-size="7.45" text-anchor="start" fill="#151515" font-style="italic">Colloidal LM-1 μm</text>
<rect x="262.20" y="656.30" width="68.56" height="3.60" fill="#eef3ea" stroke="#555" stroke-width="0.8"/>
<text x="334.70" y="660.60" font-size="7.45" text-anchor="start" fill="#151515" font-style="italic">DOWSIL TC-5026</text>
<rect x="262.20" y="673.00" width="67.99" height="3.50" fill="#eef3ea" stroke="#555" stroke-width="0.8"/>
<text x="334.70" y="677.50" font-size="7.45" text-anchor="start" fill="#151515" font-style="italic">Thermal Grizzly Kryonaut</text>
<rect x="262.20" y="690.00" width="53.66" height="3.30" fill="#e4eadf" stroke="#555" stroke-width="0.8"/>
<text x="320.60" y="694.50" font-size="7.45" text-anchor="start" fill="#151515" font-style="italic">SYY 157</text>
<rect x="262.20" y="706.80" width="59.39" height="3.30" fill="#e8eee4" stroke="#666" stroke-width="0.8"/>
<text x="326.60" y="711.00" font-size="7.45" text-anchor="start" fill="#151515" font-style="italic">Noctua NT-H2</text>
<rect x="262.20" y="726.60" width="43.35" height="3.60" fill="#d4e8ee" stroke="#555" stroke-width="0.8"/>
<text x="309.80" y="731.00" font-size="7.45" text-anchor="start" fill="#151515" font-style="italic">LM/AlN composite</text>
<rect x="262.20" y="746.80" width="9.54" height="3.40" fill="#9a9a9a" stroke="#777" stroke-width="0.8"/>
<text x="276.00" y="751.20" font-size="7.45" text-anchor="start" fill="#151515" font-style="italic">Direct contact</text>
<rect x="262.20" y="576.00" width="171.70" height="183.40" fill="none" stroke="#000" stroke-width="1.7"/>
<line x1="262.00" y1="759.40" x2="262.00" y2="763.40" stroke="#000" stroke-width="1.3" />
<text x="262.00" y="773.40" font-size="8.7" text-anchor="middle" fill="#151515" >0</text>
<line x1="296.38" y1="759.40" x2="296.38" y2="763.40" stroke="#000" stroke-width="1.3" />
<text x="296.38" y="773.40" font-size="8.7" text-anchor="middle" fill="#151515" >600</text>
<line x1="330.76" y1="759.40" x2="330.76" y2="763.40" stroke="#000" stroke-width="1.3" />
<text x="330.76" y="773.40" font-size="8.7" text-anchor="middle" fill="#151515" >1200</text>
<line x1="365.14" y1="759.40" x2="365.14" y2="763.40" stroke="#000" stroke-width="1.3" />
<text x="365.14" y="773.40" font-size="8.7" text-anchor="middle" fill="#151515" >1800</text>
<line x1="399.52" y1="759.40" x2="399.52" y2="763.40" stroke="#000" stroke-width="1.3" />
<text x="399.52" y="773.40" font-size="8.7" text-anchor="middle" fill="#151515" >2400</text>
<line x1="433.90" y1="759.40" x2="433.90" y2="763.40" stroke="#000" stroke-width="1.3" />
<text x="433.90" y="773.40" font-size="8.7" text-anchor="middle" fill="#151515" >3000</text>
<line x1="279.19" y1="759.40" x2="279.19" y2="761.80" stroke="#000" stroke-width="1.3" />
<line x1="313.57" y1="759.40" x2="313.57" y2="761.80" stroke="#000" stroke-width="1.3" />
<line x1="347.95" y1="759.40" x2="347.95" y2="761.80" stroke="#000" stroke-width="1.3" />
<line x1="382.33" y1="759.40" x2="382.33" y2="761.80" stroke="#000" stroke-width="1.3" />
<line x1="416.71" y1="759.40" x2="416.71" y2="761.80" stroke="#000" stroke-width="1.3" />
<text transform="translate(256.00,667.50) rotate(-90)" font-size="10.8" text-anchor="middle" fill="#151515">Different TIMs</text>
<text x="348.00" y="790.20" font-size="10.8" text-anchor="middle" fill="#151515" >Heat extraction power (W)</text>
<rect x="496.65" y="608.43" width="5.30" height="151.27" fill="#9a9a9a" stroke="#444" stroke-width="0.7"/>
<rect x="501.95" y="658.32" width="5.30" height="101.38" fill="#e6f4df" stroke="#444" stroke-width="0.7"/>
<rect x="507.25" y="708.29" width="5.30" height="51.41" fill="#d3ebf3" stroke="#444" stroke-width="0.7"/>
<rect x="525.37" y="606.96" width="5.30" height="152.74" fill="#9a9a9a" stroke="#444" stroke-width="0.7"/>
<rect x="530.67" y="655.35" width="5.30" height="104.35" fill="#e6f4df" stroke="#444" stroke-width="0.7"/>
<rect x="535.97" y="712.94" width="5.30" height="46.76" fill="#d3ebf3" stroke="#444" stroke-width="0.7"/>
<rect x="554.09" y="607.68" width="5.30" height="152.02" fill="#9a9a9a" stroke="#444" stroke-width="0.7"/>
<rect x="559.39" y="653.21" width="5.30" height="106.49" fill="#e6f4df" stroke="#444" stroke-width="0.7"/>
<rect x="564.69" y="711.53" width="5.30" height="48.17" fill="#d3ebf3" stroke="#444" stroke-width="0.7"/>
<rect x="582.81" y="610.16" width="5.30" height="149.54" fill="#9a9a9a" stroke="#444" stroke-width="0.7"/>
<rect x="588.11" y="652.43" width="5.30" height="107.27" fill="#e6f4df" stroke="#444" stroke-width="0.7"/>
<rect x="593.41" y="706.69" width="5.30" height="53.01" fill="#d3ebf3" stroke="#444" stroke-width="0.7"/>
<rect x="611.53" y="610.16" width="5.30" height="149.54" fill="#9a9a9a" stroke="#444" stroke-width="0.7"/>
<rect x="616.83" y="655.23" width="5.30" height="104.47" fill="#e6f4df" stroke="#444" stroke-width="0.7"/>
<rect x="622.13" y="704.78" width="5.30" height="54.92" fill="#d3ebf3" stroke="#444" stroke-width="0.7"/>
<rect x="640.25" y="608.43" width="5.30" height="151.27" fill="#9a9a9a" stroke="#444" stroke-width="0.7"/>
<rect x="645.55" y="655.23" width="5.30" height="104.47" fill="#e6f4df" stroke="#444" stroke-width="0.7"/>
<rect x="650.85" y="716.35" width="5.30" height="43.35" fill="#d3ebf3" stroke="#444" stroke-width="0.7"/>
<rect x="489.70" y="575.60" width="172.60" height="184.10" fill="none" stroke="#000" stroke-width="1.7"/>
<line x1="485.70" y1="759.70" x2="489.70" y2="759.70" stroke="#000" stroke-width="1.3" />
<text x="483.30" y="762.80" font-size="8.7" text-anchor="end" fill="#151515" >0.1</text>
<line x1="485.70" y1="712.53" x2="489.70" y2="712.53" stroke="#000" stroke-width="1.3" />
<text x="483.30" y="715.63" font-size="8.7" text-anchor="end" fill="#151515" >1</text>
<line x1="485.70" y1="665.36" x2="489.70" y2="665.36" stroke="#000" stroke-width="1.3" />
<text x="483.30" y="668.46" font-size="8.7" text-anchor="end" fill="#151515" >10</text>
<line x1="485.70" y1="618.19" x2="489.70" y2="618.19" stroke="#000" stroke-width="1.3" />
<text x="483.30" y="621.29" font-size="8.7" text-anchor="end" fill="#151515" >100</text>
<line x1="487.30" y1="745.50" x2="489.70" y2="745.50" stroke="#000" stroke-width="1.3" />
<line x1="487.30" y1="737.19" x2="489.70" y2="737.19" stroke="#000" stroke-width="1.3" />
<line x1="487.30" y1="731.30" x2="489.70" y2="731.30" stroke="#000" stroke-width="1.3" />
<line x1="487.30" y1="726.73" x2="489.70" y2="726.73" stroke="#000" stroke-width="1.3" />
<line x1="487.30" y1="722.99" x2="489.70" y2="722.99" stroke="#000" stroke-width="1.3" />
<line x1="487.30" y1="719.84" x2="489.70" y2="719.84" stroke="#000" stroke-width="1.3" />
<line x1="487.30" y1="717.10" x2="489.70" y2="717.10" stroke="#000" stroke-width="1.3" />
<line x1="487.30" y1="714.69" x2="489.70" y2="714.69" stroke="#000" stroke-width="1.3" />
<line x1="487.30" y1="698.33" x2="489.70" y2="698.33" stroke="#000" stroke-width="1.3" />
<line x1="487.30" y1="690.02" x2="489.70" y2="690.02" stroke="#000" stroke-width="1.3" />
<line x1="487.30" y1="684.13" x2="489.70" y2="684.13" stroke="#000" stroke-width="1.3" />
<line x1="487.30" y1="679.56" x2="489.70" y2="679.56" stroke="#000" stroke-width="1.3" />
<line x1="487.30" y1="675.82" x2="489.70" y2="675.82" stroke="#000" stroke-width="1.3" />
<line x1="487.30" y1="672.67" x2="489.70" y2="672.67" stroke="#000" stroke-width="1.3" />
<line x1="487.30" y1="669.93" x2="489.70" y2="669.93" stroke="#000" stroke-width="1.3" />
<line x1="487.30" y1="667.52" x2="489.70" y2="667.52" stroke="#000" stroke-width="1.3" />
<line x1="487.30" y1="651.16" x2="489.70" y2="651.16" stroke="#000" stroke-width="1.3" />
<line x1="487.30" y1="642.85" x2="489.70" y2="642.85" stroke="#000" stroke-width="1.3" />
<line x1="487.30" y1="636.96" x2="489.70" y2="636.96" stroke="#000" stroke-width="1.3" />
<line x1="487.30" y1="632.39" x2="489.70" y2="632.39" stroke="#000" stroke-width="1.3" />
<line x1="487.30" y1="628.65" x2="489.70" y2="628.65" stroke="#000" stroke-width="1.3" />
<line x1="487.30" y1="625.50" x2="489.70" y2="625.50" stroke="#000" stroke-width="1.3" />
<line x1="487.30" y1="622.76" x2="489.70" y2="622.76" stroke="#000" stroke-width="1.3" />
<line x1="487.30" y1="620.35" x2="489.70" y2="620.35" stroke="#000" stroke-width="1.3" />
<line x1="487.30" y1="603.99" x2="489.70" y2="603.99" stroke="#000" stroke-width="1.3" />
<line x1="487.30" y1="595.68" x2="489.70" y2="595.68" stroke="#000" stroke-width="1.3" />
<line x1="487.30" y1="589.79" x2="489.70" y2="589.79" stroke="#000" stroke-width="1.3" />
<line x1="487.30" y1="585.22" x2="489.70" y2="585.22" stroke="#000" stroke-width="1.3" />
<line x1="487.30" y1="581.48" x2="489.70" y2="581.48" stroke="#000" stroke-width="1.3" />
<line x1="487.30" y1="578.33" x2="489.70" y2="578.33" stroke="#000" stroke-width="1.3" />
<line x1="504.60" y1="759.70" x2="504.60" y2="763.70" stroke="#000" stroke-width="1.3" />
<text x="504.60" y="773.70" font-size="8.7" text-anchor="middle" fill="#151515" >1</text>
<line x1="533.32" y1="759.70" x2="533.32" y2="763.70" stroke="#000" stroke-width="1.3" />
<text x="533.32" y="773.70" font-size="8.7" text-anchor="middle" fill="#151515" >2</text>
<line x1="562.04" y1="759.70" x2="562.04" y2="763.70" stroke="#000" stroke-width="1.3" />
<text x="562.04" y="773.70" font-size="8.7" text-anchor="middle" fill="#151515" >3</text>
<line x1="590.76" y1="759.70" x2="590.76" y2="763.70" stroke="#000" stroke-width="1.3" />
<text x="590.76" y="773.70" font-size="8.7" text-anchor="middle" fill="#151515" >4</text>
<line x1="619.48" y1="759.70" x2="619.48" y2="763.70" stroke="#000" stroke-width="1.3" />
<text x="619.48" y="773.70" font-size="8.7" text-anchor="middle" fill="#151515" >5</text>
<line x1="648.20" y1="759.70" x2="648.20" y2="763.70" stroke="#000" stroke-width="1.3" />
<text x="648.20" y="773.70" font-size="8.7" text-anchor="middle" fill="#151515" >6</text>
<rect x="496.4" y="582.3" width="20.2" height="8.7" fill="#9a9a9a" stroke="#444" stroke-width="0.7"/>
<rect x="558.8" y="582.3" width="19.8" height="8.7" fill="#e6f4df" stroke="#444" stroke-width="0.7"/>
<rect x="496.4" y="593.6" width="20.2" height="8.7" fill="#d3ebf3" stroke="#444" stroke-width="0.7"/>
<text x="518.80" y="589.90" font-size="7.2" text-anchor="start" fill="#151515" >Air</text>
<text x="581.00" y="589.90" font-size="7.2" text-anchor="start" fill="#151515" >Silicone grease</text>
<text x="518.80" y="600.80" font-size="7.2" text-anchor="start" fill="#151515" >Colloidal LM</text>
<text transform="translate(466.00,668.90) rotate(-90)" font-size="10.8" text-anchor="middle" fill="#151515">Interface thermal resistance (mm<tspan dy="-3.5" font-size="7">2</tspan><tspan dy="3.5"> K/W)</tspan></text>
<text x="576.00" y="790.20" font-size="10.8" text-anchor="middle" fill="#151515" >Different positions</text>
</svg>
</body></html>
